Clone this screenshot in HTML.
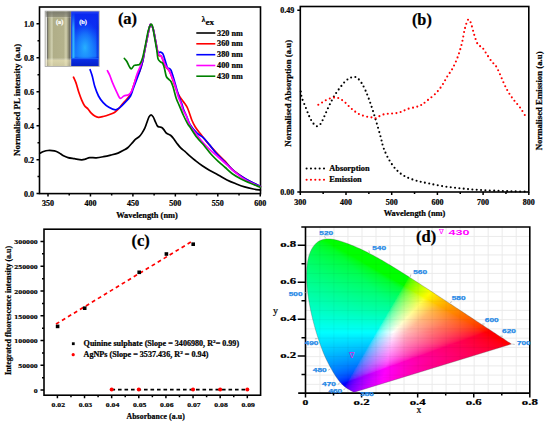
<!DOCTYPE html>
<html><head><meta charset="utf-8"><style>
html,body{margin:0;padding:0;background:#fff;width:550px;height:426px;overflow:hidden}
#wrap{position:relative;width:550px;height:426px;overflow:hidden}
svg{position:absolute;left:0;top:0}
#cie{position:absolute;overflow:hidden}
#cie i{position:absolute;left:0;width:100%;height:1px;display:block}
</style></head><body><div id="wrap">
<svg width="550" height="426" viewBox="0 0 550 426"><path d="M319.92 227 V393.1 M333.94 227 V393.1 M347.96 227 V393.1 M361.98 227 V393.1 M376 227 V393.1 M390.02 227 V393.1 M404.04 227 V393.1 M418.06 227 V393.1 M432.08 227 V393.1 M446.1 227 V393.1 M460.12 227 V393.1 M474.14 227 V393.1 M488.16 227 V393.1 M502.18 227 V393.1 M516.2 227 V393.1 M305.5 384.36 H529.8 M305.5 375.11 H529.8 M305.5 365.87 H529.8 M305.5 356.62 H529.8 M305.5 347.38 H529.8 M305.5 338.13 H529.8 M305.5 328.88 H529.8 M305.5 319.64 H529.8 M305.5 310.4 H529.8 M305.5 301.15 H529.8 M305.5 291.91 H529.8 M305.5 282.66 H529.8 M305.5 273.42 H529.8 M305.5 264.17 H529.8 M305.5 254.93 H529.8 M305.5 245.68 H529.8 M305.5 236.44 H529.8" stroke="#e9e9e9" stroke-width="0.9" fill="none"/></svg>
<div id="cie" style="left:306px;top:238px;width:206px;height:155px;clip-path:polygon(48.32px 154.18px,47.11px 153.96px,46.04px 153.35px,44.88px 152.67px,43.69px 151.99px,42.51px 151.31px,41.48px 150.68px,40.3px 149.9px,39px 148.97px,38.03px 148.19px,36.93px 147.2px,35.68px 145.95px,34.3px 144.41px,32.78px 142.57px,31.97px 141.51px,31.12px 140.34px,30.23px 139.05px,29.3px 137.64px,28.33px 136.09px,27.31px 134.4px,26.23px 132.56px,25.1px 130.56px,23.91px 128.41px,22.66px 126.08px,21.38px 123.57px,20.08px 120.88px,18.76px 117.99px,17.45px 114.9px,16.14px 111.61px,14.83px 108.12px,13.53px 104.44px,12.23px 100.55px,10.94px 96.48px,9.66px 92.24px,8.41px 87.87px,7.22px 83.37px,6.09px 78.79px,5.04px 74.15px,4.07px 69.48px,3.21px 64.8px,2.44px 60.15px,1.8px 55.55px,1.28px 51.03px,0.89px 46.6px,0.64px 42.28px,0.54px 38.09px,0.59px 34.03px,0.81px 30.12px,1.2px 26.38px,1.76px 22.83px,2.49px 19.49px,3.4px 16.39px,4.49px 13.54px,5.74px 10.96px,7.16px 8.66px,8.72px 6.65px,10.41px 4.96px,12.22px 3.59px,14.13px 2.52px,16.13px 1.73px,18.2px 1.21px,20.33px 0.93px,22.51px 0.88px,24.73px 1.02px,26.97px 1.33px,29.24px 1.78px,31.52px 2.34px,33.81px 2.98px,36.1px 3.68px,38.38px 4.45px,40.64px 5.25px,42.88px 6.09px,45.08px 6.95px,47.24px 7.82px,49.38px 8.72px,51.49px 9.64px,53.59px 10.58px,55.67px 11.55px,57.73px 12.53px,59.79px 13.55px,61.84px 14.58px,63.88px 15.63px,65.92px 16.7px,67.95px 17.8px,69.98px 18.91px,72.01px 20.03px,74.03px 21.18px,76.05px 22.33px,78.06px 23.51px,80.06px 24.69px,82.07px 25.89px,84.07px 27.09px,86.07px 28.31px,88.07px 29.54px,90.07px 30.77px,92.07px 32.02px,94.08px 33.27px,96.09px 34.53px,98.1px 35.8px,100.1px 37.07px,102.11px 38.35px,104.12px 39.63px,106.12px 40.92px,108.12px 42.21px,110.11px 43.5px,112.11px 44.79px,114.1px 46.08px,116.09px 47.38px,118.08px 48.67px,120.07px 49.96px,122.05px 51.25px,124.03px 52.54px,125.99px 53.82px,127.95px 55.1px,129.89px 56.38px,131.83px 57.65px,133.76px 58.92px,135.67px 60.17px,137.57px 61.42px,139.47px 62.67px,141.34px 63.9px,143.2px 65.13px,145.05px 66.34px,146.88px 67.55px,148.69px 68.74px,150.49px 69.92px,152.26px 71.08px,154.01px 72.23px,155.74px 73.36px,157.45px 74.48px,159.13px 75.58px,160.79px 76.67px,162.41px 77.73px,164px 78.79px,165.56px 79.81px,167.08px 80.82px,168.55px 81.79px,169.98px 82.73px,171.37px 83.64px,172.71px 84.52px,174.03px 85.38px,175.31px 86.22px,176.57px 87.05px,177.79px 87.86px,178.99px 88.64px,180.14px 89.4px,181.26px 90.13px,182.33px 90.82px,183.35px 91.49px,185.28px 92.75px,187.06px 93.92px,188.7px 94.99px,190.2px 95.99px,191.57px 96.89px,192.81px 97.71px,193.95px 98.46px,195px 99.14px,196.39px 100.05px,197.62px 100.86px,198.72px 101.58px,200.01px 102.44px,201.11px 103.16px,202.23px 103.88px,203.35px 104.62px,204.39px 105.31px,205.41px 105.98px,205.51px 106.05px)"><i style="top:1px;background:linear-gradient(90deg,#00ff03 15.75px,#00ff00 28.75px)"></i><i style="top:2px;background:linear-gradient(90deg,#00ff1d 12.75px,#00ff00 18.75px,#00ff00 32.75px)"></i><i style="top:3px;background:linear-gradient(90deg,#00ff27 11px,#00ff00 21px,#00ff00 37px)"></i><i style="top:4px;background:linear-gradient(90deg,#00ff2e 9.75px,#00ff0d 19.75px,#00ff00 22.75px,#00ff00 39.75px)"></i><i style="top:5px;background:linear-gradient(90deg,#00ff35 8.5px,#00ff0d 21.5px,#00ff00 24.5px,#00ff00 42.5px)"></i><i style="top:6px;background:linear-gradient(90deg,#00ff3a 7.5px,#00ff12 22.5px,#00ff00 26.5px,#00ff00 44.5px)"></i><i style="top:7px;background:linear-gradient(90deg,#00ff3e 6.75px,#00ff15 23.75px,#00ff00 27.75px,#00ff00 47.75px)"></i><i style="top:8px;background:linear-gradient(90deg,#00ff42 6px,#00ff1b 24px,#00ff00 29px,#00ff00 50px)"></i><i style="top:9px;background:linear-gradient(90deg,#00ff46 5.25px,#00ff1a 26.25px,#00ff00 31.25px,#00ff00 52.25px)"></i><i style="top:10px;background:linear-gradient(90deg,#00ff49 4.75px,#00ff1b 27.75px,#00ff00 32.75px,#00ff00 54.75px)"></i><i style="top:11px;background:linear-gradient(90deg,#00ff4c 4px,#00ff21 28px,#00ff00 35px,#00ff00 57px)"></i><i style="top:12px;background:linear-gradient(90deg,#00ff4f 3.5px,#00ff25 28.5px,#00ff08 34.5px,#00ff00 38.5px,#00ff00 58.5px)"></i><i style="top:13px;background:linear-gradient(90deg,#00ff52 3.25px,#00ff25 30.25px,#00ff09 36.25px,#00ff00 38.25px,#00ff00 60.25px)"></i><i style="top:14px;background:linear-gradient(90deg,#00ff55 2.75px,#00ff29 30.75px,#00ff0b 37.75px,#00ff00 40.75px,#00ff00 62.75px)"></i><i style="top:15px;background:linear-gradient(90deg,#00ff58 2.25px,#00ff2a 32.25px,#00ff0d 39.25px,#00ff00 42.25px,#00ff00 64.25px)"></i><i style="top:16px;background:linear-gradient(90deg,#00ff5a 2px,#00ff2d 33px,#00ff0d 41px,#00ff00 44px,#00ff00 67px)"></i><i style="top:17px;background:linear-gradient(90deg,#00ff5d 1.75px,#00ff30 33.75px,#00ff0e 42.75px,#00ff00 45.75px,#00ff00 68.75px)"></i><i style="top:18px;background:linear-gradient(90deg,#00ff5f 1.5px,#00ff30 35.5px,#00ff0e 44.5px,#00ff00 47.5px,#00ff00 70.5px)"></i><i style="top:19px;background:linear-gradient(90deg,#00ff62 1px,#00ff31 37px,#00ff10 46px,#00ff00 49px,#00ff00 72px)"></i><i style="top:20px;background:linear-gradient(90deg,#00ff64 1px,#00ff35 37px,#00ff15 47px,#00ff00 51px,#00ff00 74px)"></i><i style="top:21px;background:linear-gradient(90deg,#00ff66 0.75px,#00ff36 38.75px,#00ff0f 49.75px,#00ff00 52.75px,#00ff00 75.75px)"></i><i style="top:22px;background:linear-gradient(90deg,#00ff68 0.5px,#00ff3a 38.5px,#00ff15 50.5px,#00ff00 54.5px,#00ff00 77.5px)"></i><i style="top:23px;background:linear-gradient(90deg,#00ff6a 0.25px,#00ff3b 40.25px,#00ff16 52.25px,#00ff00 56.25px,#00ff00 79.25px)"></i><i style="top:24px;background:linear-gradient(90deg,#00ff6c 0px,#00ff3d 41px,#00ff16 54px,#00ff00 58px,#00ff00 81px)"></i><i style="top:25px;background:linear-gradient(90deg,#00ff6e 0px,#00ff3f 42px,#00ff15 56px,#00ff00 59px,#00ff00 82px)"></i><i style="top:26px;background:linear-gradient(90deg,#00ff71 -0.25px,#00ff3f 43.75px,#00ff15 57.75px,#00ff00 60.75px,#00ff00 83.75px)"></i><i style="top:27px;background:linear-gradient(90deg,#00ff72 -0.25px,#00ff43 43.75px,#00ff1a 58.75px,#00ff00 62.75px,#00ff00 85.75px)"></i><i style="top:28px;background:linear-gradient(90deg,#00ff75 -0.5px,#00ff42 46.5px,#00ff1a 60.5px,#00ff00 64.5px,#00ff00 87.5px)"></i><i style="top:29px;background:linear-gradient(90deg,#00ff76 -0.5px,#00ff47 45.5px,#00ff1e 61.5px,#00ff00 66.5px,#00ff00 89.5px)"></i><i style="top:30px;background:linear-gradient(90deg,#00ff78 -0.5px,#00ff47 47.5px,#00ff1d 63.5px,#00ff00 68.5px,#00ff00 90.5px)"></i><i style="top:31px;background:linear-gradient(90deg,#00ff7a -0.75px,#00ff48 49.25px,#00ff1d 65.25px,#00ff00 70.25px,#00ff00 92.25px)"></i><i style="top:32px;background:linear-gradient(90deg,#00ff7c -0.75px,#00ff4a 50.25px,#00ff21 66.25px,#00ff00 71.25px,#00ff00 94.25px)"></i><i style="top:33px;background:linear-gradient(90deg,#00ff7e -0.75px,#00ff4d 50.25px,#00ff20 68.25px,#00ff00 73.25px,#00ff00 95.25px)"></i><i style="top:34px;background:linear-gradient(90deg,#00ff80 -0.75px,#00ff4f 51.25px,#00ff24 69.25px,#00ff00 75.25px,#00ff00 97.25px)"></i><i style="top:35px;background:linear-gradient(90deg,#00ff82 -0.75px,#00ff51 52.25px,#00ff27 70.25px,#00ff00 77.25px,#00ff00 98.25px)"></i><i style="top:36px;background:linear-gradient(90deg,#00ff84 -0.75px,#00ff52 53.25px,#00ff27 72.25px,#00ff00 78.25px,#00ff00 100.25px)"></i><i style="top:37px;background:linear-gradient(90deg,#00ff86 -0.75px,#00ff54 54.25px,#00ff2a 73.25px,#00ff0e 78.25px,#00ff00 80.25px,#00ff00 102.25px)"></i><i style="top:38px;background:linear-gradient(90deg,#00ff87 -0.75px,#00ff59 53.25px,#00ff2a 75.25px,#00ff0c 80.25px,#00ff00 82.25px,#00ff00 102.25px,#0cff00 103.25px)"></i><i style="top:39px;background:linear-gradient(90deg,#00ff89 -0.75px,#00ff59 55.25px,#00ff2d 76.25px,#00ff09 82.25px,#00ff00 84.25px,#00ff00 102.25px,#24ff00 103.25px,#49ff00 105.25px)"></i><i style="top:40px;background:linear-gradient(90deg,#00ff8b -0.75px,#00ff5b 56.25px,#00ff2d 78.25px,#00ff00 86.25px,#00ff00 101.25px,#44ff00 104.25px,#5cff00 106.25px)"></i><i style="top:41px;background:linear-gradient(90deg,#00ff8d -0.75px,#00ff5d 57.25px,#00ff30 79.25px,#00ff10 85.25px,#00ff00 87.25px,#00ff00 101.25px,#29ff00 102.25px,#63ff00 106.25px,#74ff00 108.25px)"></i><i style="top:42px;background:linear-gradient(90deg,#00ff8f -0.75px,#00ff60 57.25px,#00ff2f 81.25px,#00ff0d 87.25px,#00ff00 88.25px,#00ff00 100.25px,#36ff00 102.25px,#72ff00 107.25px,#81ff00 109.25px)"></i><i style="top:43px;background:linear-gradient(90deg,#00ff91 -0.75px,#00ff60 59.25px,#00ff32 82.25px,#00ff15 88.25px,#00ff00 90.25px,#06ff00 100.25px,#2eff00 101.25px,#65ff00 105.25px,#93ff00 111.25px)"></i><i style="top:44px;background:linear-gradient(90deg,#00ff92 -0.5px,#00ff62 60.5px,#00ff31 84.5px,#00ff11 90.5px,#00ff00 92.5px,#00ff00 99.5px,#2aff00 100.5px,#64ff00 104.5px,#a0ff00 112.5px)"></i><i style="top:45px;background:linear-gradient(90deg,#00ff94 -0.5px,#00ff64 61.5px,#00ff31 86.5px,#00ff0e 92.5px,#00ff00 93.5px,#00ff00 98.5px,#37ff00 100.5px,#73ff00 105.5px,#afff00 114.5px)"></i><i style="top:46px;background:linear-gradient(90deg,#00ff96 -0.5px,#00ff67 61.5px,#00ff37 86.5px,#00ff16 93.5px,#00ff00 95.5px,#06ff00 98.5px,#2fff00 99.5px,#67ff00 103.5px,#b9ff00 115.5px)"></i><i style="top:47px;background:linear-gradient(90deg,#00ff98 -0.5px,#00ff6a 61.5px,#00ff3a 87.5px,#00ff14 95.5px,#00ff00 97.5px,#3bff00 99.5px,#76ff00 104.5px,#c7ff00 117.5px)"></i><i style="top:48px;background:linear-gradient(90deg,#00ff9a -0.25px,#00ff69 64.75px,#00ff3a 89.75px,#00ff19 96.75px,#38ff00 98.75px,#75ff00 103.75px,#ccff00 117.75px,#d1ff00 118.75px)"></i><i style="top:49px;background:linear-gradient(90deg,#00ff9c -0.25px,#00ff6b 65.75px,#00ff39 91.75px,#06ff25 96.75px,#2fff1f 97.75px,#5eff00 100.75px,#a5ff00 109.75px,#deff00 120.75px)"></i><i style="top:50px;background:linear-gradient(90deg,#00ff9e -0.25px,#00ff6d 66.75px,#00ff3c 92.75px,#00ff32 95.75px,#3cff29 97.75px,#78ff00 102.75px,#cfff00 116.75px,#e7ff00 121.75px)"></i><i style="top:51px;background:linear-gradient(90deg,#00ff9f 0px,#00ff71 66px,#00ff3f 94px,#00ff3c 95px,#39ff35 97px,#6dff21 101px,#87ff01 104px,#deff00 119px,#f0ff00 123px)"></i><i style="top:52px;background:linear-gradient(90deg,#00ffa1 0px,#00ff73 67px,#06ff42 95px,#30ff3f 96px,#6aff30 100px,#93ff0e 105px,#9aff00 106px,#fdff00 125px)"></i><i style="top:53px;background:linear-gradient(90deg,#00ffa3 0.25px,#00ff75 67.25px,#00ff49 94.25px,#2cff47 95.25px,#5eff3e 98.25px,#9aff1d 105.25px,#adff00 108.25px,#fffc00 125.25px,#fff800 126.25px)"></i><i style="top:54px;background:linear-gradient(90deg,#00ffa5 0.25px,#00ff76 69.25px,#00ff51 93.25px,#3aff4c 95.25px,#79ff3e 100.25px,#acff1c 107.25px,#b7ff01 109.25px,#fffc00 124.25px,#ffec00 128.25px)"></i><i style="top:55px;background:linear-gradient(90deg,#00ffa7 0.5px,#00ff78 70.5px,#00ff57 92.5px,#37ff53 94.5px,#6eff49 98.5px,#b8ff20 108.5px,#c8ff00 111.5px,#fffc00 123.5px,#ffe500 129.5px)"></i><i style="top:56px;background:linear-gradient(90deg,#00ffa9 0.5px,#00ff79 72.5px,#00ff5c 92.5px,#2dff5a 93.5px,#5fff53 96.5px,#aaff39 105.5px,#cdff16 111.5px,#d7ff00 113.5px,#fffc00 122.5px,#ffdb00 131.5px)"></i><i style="top:57px;background:linear-gradient(90deg,#00ffaa 0.75px,#00ff7e 70.75px,#00ff61 91.75px,#28ff60 92.75px,#5eff5a 95.75px,#aaff43 104.75px,#d7ff1b 112.75px,#e2ff00 114.75px,#fffb00 121.75px,#ffd400 132.75px)"></i><i style="top:58px;background:linear-gradient(90deg,#00ffac 0.75px,#00ff80 71.75px,#00ff67 90.75px,#4bff62 93.75px,#8bff56 99.75px,#dcff29 112.75px,#f0ff00 116.75px,#fff700 121.75px,#ffce00 133.75px)"></i><i style="top:59px;background:linear-gradient(90deg,#00ffae 1px,#00ff82 73px,#00ff6c 90px,#0eff6b 91px,#34ff69 92px,#6fff62 96px,#c1ff49 107px,#f0ff1e 116px,#faff03 118px,#ffc500 136px)"></i><i style="top:60px;background:linear-gradient(90deg,#00ffb0 1.25px,#00ff83 75.25px,#00ff70 90.25px,#30ff6f 91.25px,#63ff6a 94.25px,#aeff58 103.25px,#f6ff2a 116.25px,#fff600 120.25px,#ffbf00 137.25px)"></i><i style="top:61px;background:linear-gradient(90deg,#00ffb2 1.25px,#00ff86 75.25px,#00ff75 89.25px,#3eff72 91.25px,#75ff6c 95.25px,#c5ff56 106.25px,#ffff2f 117.25px,#ffe900 122.25px,#ffba00 138.25px)"></i><i style="top:62px;background:linear-gradient(90deg,#00ffb4 1.5px,#00ff89 75.5px,#00ff7a 88.5px,#3bff77 90.5px,#74ff72 94.5px,#cbff5b 106.5px,#fff936 117.5px,#ffe50f 122.5px,#ffe100 123.5px,#ffb200 140.5px)"></i><i style="top:63px;background:linear-gradient(90deg,#00ffb6 1.5px,#00ff8b 76.5px,#00ff7e 88.5px,#31ff7d 89.5px,#64ff79 92.5px,#abff6c 100.5px,#ffff48 115.5px,#ffdd17 123.5px,#ffd700 125.5px,#ffad00 141.5px)"></i><i style="top:64px;background:linear-gradient(90deg,#00ffb8 1.75px,#00ff8e 76.75px,#00ff82 87.75px,#2dff81 88.75px,#63ff7d 91.75px,#aaff72 99.75px,#fffe51 114.75px,#ffd211 125.75px,#ffcc00 127.75px,#ffa600 143.75px)"></i><i style="top:65px;background:linear-gradient(90deg,#00ffba 2px,#00ff90 78px,#00ff87 87px,#28ff86 88px,#53ff83 90px,#94ff7c 96px,#f7ff5f 112px,#ffe33e 120px,#ffcb15 127px,#ffc600 129px,#ffa100 145px)"></i><i style="top:66px;background:linear-gradient(90deg,#00ffbc 2.25px,#00ff92 79.25px,#00ff8b 86.25px,#3eff89 88.25px,#77ff85 92.25px,#cbff75 103.25px,#fffc60 113.25px,#ffc519 128.25px,#ffbc00 131.25px,#ff9c00 146.25px)"></i><i style="top:67px;background:linear-gradient(90deg,#00ffbe 2.25px,#00ff94 81.25px,#07ff8f 86.25px,#35ff8e 87.25px,#68ff8b 90.25px,#b6ff7f 99.25px,#fffc68 112.25px,#ffbc16 130.25px,#ffb700 132.25px,#ff9600 148.25px)"></i><i style="top:68px;background:linear-gradient(90deg,#00ffc0 2.5px,#00ff97 81.5px,#00ff93 85.5px,#31ff92 86.5px,#66ff8f 89.5px,#afff86 97.5px,#fffb6e 111.5px,#ffb81f 130.5px,#ffaf00 134.5px,#ff9100 149.5px)"></i><i style="top:69px;background:linear-gradient(90deg,#00ffc2 2.75px,#00ff9a 81.75px,#00ff98 84.75px,#2cff97 85.75px,#65ff94 88.75px,#b6ff8a 97.75px,#fffb74 110.75px,#ffbd33 127.75px,#ffab0b 134.75px,#ffa700 136.75px,#ff8d00 150.75px)"></i><i style="top:70px;background:linear-gradient(90deg,#00ffc4 3px,#00ff9c 84px,#42ff9a 86px,#7bff96 90px,#d1ff8a 101px,#fffa7a 110px,#ffbb3b 127px,#ffa610 136px,#ffa000 139px,#ff8800 152px)"></i><i style="top:71px;background:linear-gradient(90deg,#00ffc6 3px,#00ffa0 83px,#10ff9f 84px,#39ff9e 85px,#77ff9b 89px,#c9ff90 99px,#fffa80 109px,#ffb840 127px,#ffa115 137px,#ff9b00 140px,#ff8300 154px)"></i><i style="top:72px;background:linear-gradient(90deg,#00ffc8 3.25px,#00ffa4 83.25px,#35ffa3 84.25px,#6affa0 87.25px,#bcff98 96.25px,#fffe8a 107.25px,#ffba4a 125.25px,#ff9a11 139.25px,#ff9400 142.25px,#ff7e00 155.25px)"></i><i style="top:73px;background:linear-gradient(90deg,#00ffcb 3.5px,#00ffa8 82.5px,#30ffa7 83.5px,#69ffa5 86.5px,#b5ff9d 94.5px,#fffd8f 106.5px,#ffbb52 123.5px,#ff9514 140.5px,#ff8f00 143.5px,#ff7a00 156.5px)"></i><i style="top:74px;background:linear-gradient(90deg,#00ffcd 3.75px,#00ffac 81.75px,#2bffab 82.75px,#58ffaa 84.75px,#a5ffa4 91.75px,#fffd94 105.75px,#ffba58 122.75px,#ff9017 141.75px,#ff8900 145.75px,#ff7400 158.75px)"></i><i style="top:75px;background:linear-gradient(90deg,#00ffcf 4px,#00ffb0 81px,#43ffaf 83px,#7fffac 87px,#d8ffa2 98px,#fffc99 105px,#ffb95c 122px,#ff8b19 143px,#ff8400 147px,#ff7000 160px)"></i><i style="top:76px;background:linear-gradient(90deg,#00ffd1 4.25px,#00ffb4 80.25px,#3fffb3 82.25px,#7effb0 86.25px,#d2ffa8 96.25px,#fffb9d 104.25px,#ffbb64 120.25px,#ff8416 145.25px,#ff7e00 149.25px,#ff6c00 161.25px)"></i><i style="top:77px;background:linear-gradient(90deg,#00ffd3 4.5px,#00ffb8 79.5px,#11ffb8 80.5px,#3bffb7 81.5px,#7dffb4 85.5px,#d2ffad 95.5px,#fffaa2 103.5px,#ffba68 119.5px,#ff8018 146.5px,#ff7900 150.5px,#ff6600 163.5px)"></i><i style="top:78px;background:linear-gradient(90deg,#00ffd6 4.75px,#00ffbc 79.75px,#37ffbb 80.75px,#6fffb9 83.75px,#bdffb4 91.75px,#fffeab 101.75px,#ffbb6f 117.75px,#ff7915 148.75px,#ff7300 152.75px,#ff6200 164.75px)"></i><i style="top:79px;background:linear-gradient(90deg,#00ffd8 5px,#00ffc0 79px,#32ffbf 80px,#5effbe 82px,#a4ffba 88px,#fffdb0 101px,#ffba74 117px,#ff7517 150px,#ff6f00 154px,#ff5e00 166px)"></i><i style="top:80px;background:linear-gradient(90deg,#00ffda 5.25px,#00ffc4 78.25px,#2dffc3 79.25px,#5cffc2 81.25px,#a3ffbf 87.25px,#fffcb4 100.25px,#ffb977 116.25px,#ff7524 148.25px,#ff6900 156.25px,#ff5900 167.25px)"></i><i style="top:81px;background:linear-gradient(90deg,#00ffdd 5.5px,#00ffc8 77.5px,#46ffc7 79.5px,#84ffc5 83.5px,#dbffbf 93.5px,#fffbb8 99.5px,#ffb478 116.5px,#ff6a16 153.5px,#ff6400 157.5px,#ff5400 169.5px)"></i><i style="top:82px;background:linear-gradient(90deg,#00ffdf 5.75px,#00ffcc 76.75px,#42ffcb 78.75px,#77ffca 81.75px,#cdffc5 90.75px,#fffabd 98.75px,#ffb982 113.75px,#ff7536 144.75px,#ff630d 156.75px,#ff5e00 159.75px,#ff4f00 170.75px)"></i><i style="top:83px;background:linear-gradient(90deg,#00ffe2 6px,#00ffd0 76px,#12ffd0 77px,#3effcf 78px,#75ffce 81px,#c5ffca 89px,#ffffc6 97px,#ffbb88 112px,#ff753d 143px,#ff5e10 158px,#ff5800 162px,#ff4a00 172px)"></i><i style="top:84px;background:linear-gradient(90deg,#00ffe4 6.25px,#00ffd4 76.25px,#3affd4 77.25px,#74ffd3 80.25px,#ceffcf 89.25px,#fffecb 96.25px,#ffbd8f 110.25px,#ff7746 140.25px,#ff5912 159.25px,#ff5400 163.25px,#ff4500 173.25px)"></i><i style="top:85px;background:linear-gradient(90deg,#00ffe7 6.5px,#00ffd8 75.5px,#35ffd8 76.5px,#63ffd7 78.5px,#acffd5 84.5px,#fffdcf 95.5px,#ffb88f 110.5px,#ff7246 141.5px,#ff5514 160.5px,#ff4d00 165.5px,#ff3f00 175.5px)"></i><i style="top:86px;background:linear-gradient(90deg,#00ffe9 6.75px,#00ffdd 74.75px,#2fffdc 75.75px,#61ffdc 77.75px,#abffda 83.75px,#fffcd3 94.75px,#ffba96 108.75px,#ff744e 138.75px,#ff4e12 162.75px,#ff4800 166.75px,#ff3900 176.75px)"></i><i style="top:87px;background:linear-gradient(90deg,#00ffec 7px,#00ffe1 74px,#49ffe0 76px,#8bffdf 80px,#eeffdc 91px,#fff4d1 95px,#ffb293 110px,#ff6d4c 141px,#ff4914 164px,#ff4200 169px,#ff3300 178px)"></i><i style="top:88px;background:linear-gradient(90deg,#00ffee 7.25px,#00ffe5 73.25px,#46ffe5 75.25px,#8affe4 79.25px,#e7ffe1 89.25px,#fffadb 93.25px,#ffbba0 106.25px,#ff765b 134.25px,#ff4415 165.25px,#ff3c00 170.25px,#ff2b00 180.25px)"></i><i style="top:89px;background:linear-gradient(90deg,#00fff1 7.5px,#00ffea 72.5px,#14ffe9 73.5px,#42ffe9 74.5px,#7cffe9 77.5px,#d0ffe7 85.5px,#ffffe5 91.5px,#ffb9a3 105.5px,#ff745e 133.5px,#ff3f17 166.5px,#ff3500 172.5px,#ff2300 181.5px)"></i><i style="top:90px;background:linear-gradient(90deg,#00fff4 7.75px,#00ffee 72.75px,#3dffee 73.75px,#7affed 76.75px,#d0ffec 84.75px,#fffeea 90.75px,#ffb8a6 104.75px,#ff7463 131.75px,#ff3715 168.75px,#ff2e00 173.75px,#ff1a00 182.75px)"></i><i style="top:91px;background:linear-gradient(90deg,#00fff7 8px,#00fff2 72px,#38fff2 73px,#68fff2 75px,#b5fff1 81px,#fffdee 90px,#ffbeb1 102px,#ff7a6e 127px,#ff3016 170px,#ff2400 176px,#ff0b00 184px)"></i><i style="top:92px;background:linear-gradient(90deg,#00fff9 8.25px,#00fff7 71.25px,#32fff7 72.25px,#66fff7 74.25px,#b5fff6 80.25px,#fffcf2 89.25px,#ffb8b0 102.25px,#ff736b 129.25px,#ff2714 172.25px,#ff1a00 177.25px,#ff0000 184.25px,#ff0000 186.25px)"></i><i style="top:93px;background:linear-gradient(90deg,#00fffc 8.75px,#00fffb 70.75px,#36fffb 71.75px,#69fffb 73.75px,#b7fffb 79.75px,#fefffb 87.75px,#ffbeba 99.75px,#ff7a77 123.75px,#ff1d15 173.75px,#ff0a00 178.75px,#ff0000 183.75px,#ff0000 187.75px)"></i><i style="top:94px;background:linear-gradient(90deg,#00ffff 9px,#00feff 70px,#2ffeff 71px,#66feff 73px,#b7feff 79px,#fefeff 87px,#ffbcbd 99px,#ff7b7c 122px,#ff171c 173px,#ff0004 179px,#ff0000 189px)"></i><i style="top:95px;background:linear-gradient(90deg,#00fcff 9.25px,#00faff 69.25px,#4bf9ff 71.25px,#91f9ff 75.25px,#f2f8ff 85.25px,#ffeef5 88.25px,#ffabb1 102.25px,#ff6369 132.25px,#ff1425 171.25px,#ff0017 176.25px,#ff0000 183.25px,#ff0000 190.25px)"></i><i style="top:96px;background:linear-gradient(90deg,#00f9ff 9.5px,#00f5ff 68.5px,#1bf5ff 69.5px,#46f5ff 70.5px,#7ff4ff 73.5px,#d5f4ff 81.5px,#ffedf9 87.5px,#ffadb8 100.5px,#ff6973 127.5px,#ff182f 167.5px,#ff0023 173.5px,#ff0000 185.5px,#ff0000 191.5px)"></i><i style="top:97px;background:linear-gradient(90deg,#00f6ff 10px,#00f1ff 68px,#47f0ff 70px,#8df0ff 74px,#eceeff 84px,#ffeafb 87px,#ffaebd 99px,#ff6877 126px,#ff1736 165px,#ff002b 171px,#ff0005 184px,#ff0000 193px)"></i><i style="top:98px;background:linear-gradient(90deg,#00f3ff 10.25px,#00ecff 67.25px,#14ecff 68.25px,#42ecff 69.25px,#7cebff 72.25px,#d9e9ff 81.25px,#ffe8ff 86.25px,#ffa5b9 100.25px,#ff6074 128.25px,#ff173d 162.25px,#ff0033 168.25px,#ff000c 184.25px,#ff0000 190.25px,#ff0000 195.25px)"></i><i style="top:99px;background:linear-gradient(90deg,#00f0ff 10.5px,#00e8ff 67.5px,#3ce8ff 68.5px,#78e7ff 71.5px,#c4e5ff 78.5px,#ffe0fb 86.5px,#ffa0b8 100.5px,#ff5871 130.5px,#ff1442 160.5px,#ff003a 165.5px,#ff000e 185.5px,#ff0000 190.5px,#ff0000 196.5px)"></i><i style="top:100px;background:linear-gradient(90deg,#00edff 10.75px,#00e4ff 66.75px,#36e3ff 67.75px,#75e3ff 70.75px,#cae0ff 78.75px,#ffdeff 85.75px,#ff9ebb 99.75px,#ff5977 127.75px,#ff1849 156.75px,#ff0040 162.75px,#ff0010 186.75px,#ff0000 192.75px,#ff0000 197.75px)"></i><i style="top:101px;background:linear-gradient(90deg,#00eaff 11.25px,#00dfff 66.25px,#38dfff 67.25px,#75deff 70.25px,#c8dcff 78.25px,#ffd4fa 86.25px,#ff95b6 101.25px,#ff4c70 132.25px,#ff134d 155.25px,#ff0046 160.25px,#ff0011 188.25px,#ff0000 194.25px,#ff0000 199.25px)"></i><i style="top:102px;background:linear-gradient(90deg,#00e7ff 11.5px,#00dbff 65.5px,#32dbff 66.5px,#62daff 68.5px,#abd8ff 74.5px,#ffd3fe 85.5px,#ff96bc 99.5px,#ff4d76 129.5px,#ff1453 152.5px,#ff004b 157.5px,#ff0012 189.5px,#ff0000 195.5px,#ff0000 201.5px)"></i><i style="top:103px;background:linear-gradient(90deg,#00e4ff 11.75px,#00d7ff 64.75px,#2bd7ff 65.75px,#5ed6ff 67.75px,#a8d4ff 73.75px,#fdcfff 84.75px,#ff8db8 100.75px,#ff4473 131.75px,#ff1458 149.75px,#ff0051 154.75px,#ff0014 190.75px,#ff0000 197.75px,#ff0000 202.75px)"></i><i style="top:104px;background:linear-gradient(90deg,#00e1ff 12.25px,#00d3ff 64.25px,#2ed3ff 65.25px,#5ed2ff 67.25px,#a7cfff 73.25px,#ffc7fd 85.25px,#ff8dbd 99.25px,#ff477a 128.25px,#ff135d 147.25px,#ff0057 151.25px,#ff0017 191.25px,#ff0000 199.25px,#ff0000 204.25px)"></i><i style="top:105px;background:linear-gradient(90deg,#00deff 12.5px,#00cfff 63.5px,#46ceff 65.5px,#85cdff 69.5px,#dcc7ff 79.5px,#ffc0fa 85.5px,#ff85b9 100.5px,#ff3874 132.5px,#ff0e61 145.5px,#ff005c 148.5px,#ff0018 192.5px,#ff0000 201.5px,#ff0000 205.5px)"></i><i style="top:106px;background:linear-gradient(90deg,#00dbff 13px,#00cbff 63px,#2acbff 64px,#5bcaff 66px,#a3c7ff 72px,#fcc0ff 84px,#ff7fb8 101px,#ff2e73 134px,#ff0664 144px,#ff0016 195px,#ff0000 203px,#ff0000 205px)"></i><i style="top:107px;background:linear-gradient(90deg,#00d8ff 13.25px,#00c7ff 62.25px,#43c6ff 64.25px,#82c4ff 68.25px,#d8beff 78.25px,#ffb5f9 85.25px,#ff77b4 102.25px,#ff186d 138.25px,#ff0066 143.25px,#ff0017 196.25px,#ff0001 202.25px)"></i><i style="top:108px;background:linear-gradient(90deg,#00d5ff 13.5px,#00c4ff 61.5px,#18c3ff 62.5px,#3ec3ff 63.5px,#73c1ff 66.5px,#c7bbff 75.5px,#ffb3fc 84.5px,#ff7abd 99.5px,#ff2a7a 130.5px,#ff006b 140.5px,#ff0018 197.5px,#ff0015 198.5px)"></i><i style="top:109px;background:linear-gradient(90deg,#00d2ff 14px,#00c0ff 61px,#40bfff 63px,#7fbcff 67px,#d4b6ff 77px,#ffaaf8 85px,#ff71b8 101px,#ff1877 133px,#ff0070 138px,#ff0021 195px)"></i><i style="top:110px;background:linear-gradient(90deg,#00cfff 14.25px,#00bcff 60.25px,#11bbff 61.25px,#3bbbff 62.25px,#70b9ff 65.25px,#bcb4ff 73.25px,#ffa8fb 84.25px,#ff6ebb 100.25px,#ff187c 130.25px,#ff0075 135.25px,#ff0028 192.25px)"></i><i style="top:111px;background:linear-gradient(90deg,#00ccff 14.75px,#00b8ff 59.75px,#17b8ff 60.75px,#3db7ff 61.75px,#7cb4ff 65.75px,#d7acff 76.75px,#ffa4fc 83.75px,#ff67b9 100.75px,#ff1881 127.75px,#ff007b 131.75px,#ff0030 188.75px)"></i><i style="top:112px;background:linear-gradient(90deg,#00c9ff 15px,#00b4ff 59px,#08b4ff 60px,#38b3ff 61px,#6db1ff 64px,#b8abff 72px,#ff9dfa 84px,#ff5fb6 102px,#ff1886 125px,#ff0080 129px,#ff0037 185px)"></i><i style="top:113px;background:linear-gradient(90deg,#00c6ff 15.5px,#00b1ff 58.5px,#10b0ff 59.5px,#3aafff 60.5px,#6dadff 63.5px,#bfa6ff 72.5px,#ff99fb 83.5px,#ff5dba 100.5px,#ff178b 122.5px,#ff0084 126.5px,#ff003c 182.5px)"></i><i style="top:114px;background:linear-gradient(90deg,#00c2ff 16px,#00adff 58px,#16acff 59px,#3babff 60px,#79a8ff 64px,#d29fff 75px,#ff95fd 83px,#ff56b9 101px,#ff1690 120px,#ff0089 124px,#ff0042 179px)"></i><i style="top:115px;background:linear-gradient(90deg,#00bfff 16.25px,#00a9ff 57.25px,#07a8ff 58.25px,#36a8ff 59.25px,#6ba5ff 62.25px,#bb9dff 71.25px,#ff8dfa 83.25px,#ff4db6 102.25px,#ff1796 117.25px,#ff008f 121.25px,#ff0047 175.25px)"></i><i style="top:116px;background:linear-gradient(90deg,#00bcff 16.75px,#00a5ff 56.75px,#10a5ff 57.75px,#38a4ff 58.75px,#77a0ff 62.75px,#d595ff 74.75px,#ff89fc 82.75px,#ff4bba 100.75px,#ff169b 114.75px,#ff0093 118.75px,#ff004c 172.75px)"></i><i style="top:117px;background:linear-gradient(90deg,#00b9ff 17.25px,#00a1ff 56.25px,#16a1ff 57.25px,#3aa0ff 58.25px,#779cff 62.25px,#c792ff 72.25px,#ff85fd 82.25px,#ff45bc 100.25px,#ff15a0 112.25px,#ff009a 115.25px,#ff0051 169.25px)"></i><i style="top:118px;background:linear-gradient(90deg,#00b6ff 17.5px,#009eff 55.5px,#079dff 56.5px,#359cff 57.5px,#6899ff 60.5px,#b091ff 68.5px,#ff7dfb 82.5px,#ff39b8 101.5px,#ff0ea4 110.5px,#ff00a0 112.5px,#ff0056 165.5px)"></i><i style="top:119px;background:linear-gradient(90deg,#00b2ff 18px,#009aff 55px,#0f99ff 56px,#3798ff 57px,#6995ff 60px,#b78cff 69px,#ff78fc 82px,#ff2eb7 102px,#ff0baa 108px,#ff00a5 110px,#ff005a 163px)"></i><i style="top:120px;background:linear-gradient(90deg,#00afff 18.5px,#0096ff 54.5px,#1595ff 55.5px,#3994ff 56.5px,#7490ff 60.5px,#c385ff 70.5px,#ff6ff9 82.5px,#ff20b6 102.5px,#ff00ad 106.5px,#ff0062 156.5px,#ff005f 159.5px)"></i><i style="top:121px;background:linear-gradient(90deg,#00abff 19px,#0092ff 54px,#4e8fff 57px,#9089ff 63px,#ef73ff 78px,#ff6afa 82px,#ff19ba 101px,#ff00b3 104px,#ff006d 148px,#ff0064 156px)"></i><i style="top:122px;background:linear-gradient(90deg,#00a8ff 19.5px,#008eff 53.5px,#3c8cff 55.5px,#7588ff 59.5px,#c779ff 70.5px,#ff64fc 81.5px,#ff18c0 98.5px,#ff00b9 101.5px,#ff0076 141.5px,#ff0069 152.5px)"></i><i style="top:123px;background:linear-gradient(90deg,#00a4ff 20px,#008aff 53px,#3d88ff 55px,#7584ff 59px,#c774ff 70px,#ff5efd 81px,#ff17c7 96px,#ff00c2 98px,#ff0080 134px,#ff006c 150px)"></i><i style="top:124px;background:linear-gradient(90deg,#00a1ff 20.5px,#0086ff 52.5px,#3e84ff 54.5px,#757fff 58.5px,#cc6dff 70.5px,#ff53fa 81.5px,#ff16ce 93.5px,#ff00c8 95.5px,#ff0084 131.5px,#ff0071 146.5px)"></i><i style="top:125px;background:linear-gradient(90deg,#009dff 21px,#0082ff 52px,#4080ff 54px,#757bff 58px,#c56aff 69px,#ff4cfb 81px,#ff14d5 91px,#ff00cf 93px,#ff008b 127px,#ff0076 143px)"></i><i style="top:126px;background:linear-gradient(90deg,#009aff 21.5px,#007eff 51.5px,#297dff 52.5px,#5f79ff 55.5px,#ac6cff 64.5px,#ff44fc 80.5px,#ff12dd 88.5px,#ff00d7 90.5px,#ff0097 119.5px,#ff007b 139.5px)"></i><i style="top:127px;background:linear-gradient(90deg,#0096ff 22px,#007aff 51px,#2b79ff 52px,#5f75ff 55px,#a568ff 63px,#ff3bfe 80px,#ff10e5 86px,#ff00e2 87px,#ff00a3 113px,#ff0080 136px)"></i><i style="top:128px;background:linear-gradient(90deg,#0092ff 22.5px,#0076ff 50.5px,#2d74ff 51.5px,#6070ff 54.5px,#ab61ff 63.5px,#ff30ff 79.5px,#ff00ea 84.5px,#ff00a7 110.5px,#ff0084 133.5px)"></i><i style="top:129px;background:linear-gradient(90deg,#008eff 23.25px,#0072ff 49.25px,#1371ff 50.25px,#3570ff 51.25px,#6e69ff 55.25px,#be54ff 66.25px,#fa27ff 78.25px,#ff00f2 82.25px,#ff00b0 106.25px,#ff0089 130.25px)"></i><i style="top:130px;background:linear-gradient(90deg,#008aff 23.75px,#006eff 48.75px,#376bff 50.75px,#6e64ff 54.75px,#b74fff 64.75px,#f024ff 75.75px,#fe00ff 78.75px,#ff00b9 101.75px,#ff008e 126.75px)"></i><i style="top:131px;background:linear-gradient(90deg,#0086ff 24.25px,#0069ff 48.25px,#3866ff 50.25px,#6e5fff 54.25px,#c242ff 66.25px,#ea1aff 74.25px,#f400ff 76.25px,#ff00f1 82.25px,#ff00b0 106.25px,#ff0094 123.25px)"></i><i style="top:132px;background:linear-gradient(90deg,#0081ff 24.75px,#0065ff 47.75px,#3a61ff 49.75px,#6f5aff 53.75px,#c13aff 65.75px,#e017ff 71.75px,#e900ff 73.75px,#ff00fa 79.75px,#ff00b7 102.75px,#ff0099 119.75px)"></i><i style="top:133px;background:linear-gradient(90deg,#007dff 25.5px,#005fff 47.5px,#295eff 48.5px,#5c58ff 51.5px,#ac3eff 61.5px,#d21bff 68.5px,#db00ff 70.5px,#ff00fa 79.5px,#ff00b8 102.5px,#ff009f 116.5px)"></i><i style="top:134px;background:linear-gradient(90deg,#0078ff 26px,#005aff 47px,#2b58ff 48px,#5d52ff 51px,#ab35ff 61px,#c719ff 66px,#d100ff 68px,#ff00fb 79px,#ff00b7 103px,#ff00a3 114px)"></i><i style="top:135px;background:linear-gradient(90deg,#0073ff 26.5px,#0055ff 46.5px,#2d53ff 47.5px,#5d4cff 50.5px,#ab2aff 60.5px,#c600ff 65.5px,#ff00fc 78.5px,#ff00b8 102.5px,#ff00a9 110.5px)"></i><i style="top:136px;background:linear-gradient(90deg,#006eff 27.25px,#0051ff 45.25px,#474aff 48.25px,#8439ff 54.25px,#b110ff 61.25px,#b700ff 62.25px,#ff00fd 78.25px,#ff00bd 100.25px,#ff00af 107.25px)"></i><i style="top:137px;background:linear-gradient(90deg,#0069ff 27.75px,#004bff 44.75px,#4843ff 47.75px,#842fff 53.75px,#a50cff 58.75px,#b100ff 60.75px,#ff00fe 77.75px,#ff00bc 100.75px,#ff00b6 103.75px)"></i><i style="top:138px;background:linear-gradient(90deg,#0063ff 28.5px,#0044ff 44.5px,#2641ff 45.5px,#5938ff 48.5px,#9412ff 55.5px,#a000ff 57.5px,#ff00fe 77.5px,#ff00bf 99.5px,#ff00bd 100.5px)"></i><i style="top:139px;background:linear-gradient(90deg,#005dff 29.25px,#053cff 44.25px,#2e39ff 45.25px,#662aff 49.25px,#880bff 53.25px,#9500ff 55.25px,#f800ff 75.25px,#ff00d7 89.25px,#ff00c4 97.25px)"></i><i style="top:140px;background:linear-gradient(90deg,#0056ff 29.75px,#0038ff 42.75px,#0c34ff 43.75px,#3031ff 44.75px,#671cff 48.75px,#8000ff 51.75px,#d500ff 66.75px,#ff00fb 77.75px,#ff00cb 93.75px)"></i><i style="top:141px;background:linear-gradient(90deg,#004fff 30.5px,#002eff 42.5px,#3725ff 44.5px,#6900ff 48.5px,#b300ff 59.5px,#ff00fb 77.5px,#ff00d3 90.5px)"></i><i style="top:142px;background:linear-gradient(90deg,#0047ff 31.25px,#0022ff 42.25px,#271bff 43.25px,#5800ff 46.25px,#9e00ff 55.25px,#ff00ff 76.25px,#ff00db 87.25px)"></i><i style="top:143px;background:linear-gradient(90deg,#003dff 32.25px,#0015ff 41.25px,#3400ff 43.25px,#7000ff 48.25px,#c500ff 62.25px,#ff00fb 77.25px,#ff00e4 84.25px)"></i><i style="top:144px;background:linear-gradient(90deg,#0031ff 33px,#0010ff 39px,#0000ff 41px,#2400ff 42px,#5600ff 45px,#9c00ff 54px,#ff00fe 76px,#ff00ed 81px)"></i><i style="top:145px;background:linear-gradient(90deg,#0020ff 34px,#0000ff 38px,#0000ff 40px,#4300ff 43px,#7e00ff 49px,#d400ff 65px,#ff00fa 77px,#ff00f6 78px)"></i><i style="top:146px;background:linear-gradient(90deg,#0000ff 34.75px,#0000ff 39.75px,#3800ff 41.75px,#7100ff 46.75px,#c300ff 60.75px,#fd00ff 74.75px)"></i><i style="top:147px;background:linear-gradient(90deg,#0000ff 36px,#0000ff 39px,#3500ff 41px,#6f00ff 46px,#c100ff 60px,#ef00ff 71px)"></i><i style="top:148px;background:linear-gradient(90deg,#0000ff 37px,#0500ff 39px,#2c00ff 40px,#6200ff 44px,#b000ff 56px,#e400ff 68px)"></i><i style="top:149px;background:linear-gradient(90deg,#0000ff 38.25px,#2800ff 39.25px,#6000ff 43.25px,#a900ff 54.25px,#d700ff 64.25px)"></i><i style="top:150px;background:linear-gradient(90deg,#3d00ff 39.75px,#7900ff 45.75px,#ce00ff 61.75px)"></i><i style="top:151px;background:linear-gradient(90deg,#5900ff 41.5px,#9f00ff 51.5px,#c100ff 58.5px)"></i><i style="top:152px;background:linear-gradient(90deg,#6e00ff 43.25px,#b400ff 55.25px)"></i><i style="top:153px;background:linear-gradient(90deg,#7e00ff 45px,#a600ff 52px)"></i></div>
<svg width="550" height="426" viewBox="0 0 550 426"><rect x="39.5" y="7.0" width="221.0" height="186.6" fill="none" stroke="#000" stroke-width="1.6"/>
<path d="M48 193.6 V196.6 M69.22 193.6 V195.6 M90.45 193.6 V196.6 M111.67 193.6 V195.6 M132.9 193.6 V196.6 M154.12 193.6 V195.6 M175.35 193.6 V196.6 M196.57 193.6 V195.6 M217.8 193.6 V196.6 M239.03 193.6 V195.6 M260.25 193.6 V196.6 M39.5 193.6 H36.5 M39.5 176.62 H37.5 M39.5 159.64 H36.5 M39.5 142.66 H37.5 M39.5 125.68 H36.5 M39.5 108.7 H37.5 M39.5 91.72 H36.5 M39.5 74.74 H37.5 M39.5 57.76 H36.5 M39.5 40.78 H37.5 M39.5 23.8 H36.5" stroke="#000" stroke-width="1.5" fill="none"/>
<text x="48" y="203.5" font-size="8" text-anchor="middle" font-weight="bold" fill="#000" font-family='"Liberation Serif", serif' dominant-baseline="central" stroke="#000" stroke-width="0.22" >350</text>
<text x="90.45" y="203.5" font-size="8" text-anchor="middle" font-weight="bold" fill="#000" font-family='"Liberation Serif", serif' dominant-baseline="central" stroke="#000" stroke-width="0.22" >400</text>
<text x="132.9" y="203.5" font-size="8" text-anchor="middle" font-weight="bold" fill="#000" font-family='"Liberation Serif", serif' dominant-baseline="central" stroke="#000" stroke-width="0.22" >450</text>
<text x="175.35" y="203.5" font-size="8" text-anchor="middle" font-weight="bold" fill="#000" font-family='"Liberation Serif", serif' dominant-baseline="central" stroke="#000" stroke-width="0.22" >500</text>
<text x="217.8" y="203.5" font-size="8" text-anchor="middle" font-weight="bold" fill="#000" font-family='"Liberation Serif", serif' dominant-baseline="central" stroke="#000" stroke-width="0.22" >550</text>
<text x="260.25" y="203.5" font-size="8" text-anchor="middle" font-weight="bold" fill="#000" font-family='"Liberation Serif", serif' dominant-baseline="central" stroke="#000" stroke-width="0.22" >600</text>
<text x="34" y="194.4" font-size="8" text-anchor="end" font-weight="bold" fill="#000" font-family='"Liberation Serif", serif' dominant-baseline="central" stroke="#000" stroke-width="0.22" >0.0</text>
<text x="34" y="160.44" font-size="8" text-anchor="end" font-weight="bold" fill="#000" font-family='"Liberation Serif", serif' dominant-baseline="central" stroke="#000" stroke-width="0.22" >0.2</text>
<text x="34" y="126.48" font-size="8" text-anchor="end" font-weight="bold" fill="#000" font-family='"Liberation Serif", serif' dominant-baseline="central" stroke="#000" stroke-width="0.22" >0.4</text>
<text x="34" y="92.52" font-size="8" text-anchor="end" font-weight="bold" fill="#000" font-family='"Liberation Serif", serif' dominant-baseline="central" stroke="#000" stroke-width="0.22" >0.6</text>
<text x="34" y="58.56" font-size="8" text-anchor="end" font-weight="bold" fill="#000" font-family='"Liberation Serif", serif' dominant-baseline="central" stroke="#000" stroke-width="0.22" >0.8</text>
<text x="34" y="24.6" font-size="8" text-anchor="end" font-weight="bold" fill="#000" font-family='"Liberation Serif", serif' dominant-baseline="central" stroke="#000" stroke-width="0.22" >1.0</text>
<text x="147" y="215" font-size="8.4" text-anchor="middle" font-weight="bold" fill="#000" font-family='"Liberation Serif", serif' dominant-baseline="central" stroke="#000" stroke-width="0.22" >Wavelength (nm)</text>
<text x="0" y="0" font-size="8.95" text-anchor="middle" font-weight="bold" fill="#000" font-family='"Liberation Serif", serif' dominant-baseline="central" stroke="#000" stroke-width="0.22" transform="translate(17.4 99.8) rotate(-90)">Normalised PL intensity (a.u)</text>
<text x="127.5" y="18.7" font-size="16.5" text-anchor="middle" font-weight="bold" fill="#000" font-family='"Liberation Serif", serif' dominant-baseline="central" stroke="#000" stroke-width="0.22" >(a)</text>
<path d="M39.8 153.3 C40.42 153 42.13 151.97 43.5 151.5 C44.87 151.03 46.18 150.6 48 150.5 C49.82 150.4 52.58 150.53 54.4 150.9 C56.22 151.27 57.38 151.88 58.9 152.7 C60.42 153.52 61.98 154.98 63.5 155.8 C65.02 156.62 66.18 157.12 68 157.6 C69.82 158.08 72.13 158.33 74.4 158.7 C76.67 159.07 79.78 159.73 81.6 159.8 C83.42 159.87 83.93 159.47 85.3 159.1 C86.67 158.73 87.98 157.82 89.8 157.6 C91.62 157.38 93.92 157.95 96.2 157.8 C98.48 157.65 101.08 157.15 103.5 156.7 C105.92 156.25 108.28 155.7 110.7 155.1 C113.12 154.5 115.87 153.9 118 153.1 C120.13 152.3 121.83 151.23 123.5 150.3 C125.17 149.37 126.45 148.83 128 147.5 C129.55 146.17 131.53 143.68 132.8 142.3 C134.07 140.92 134.53 140.15 135.6 139.2 C136.67 138.25 138.13 137.62 139.2 136.6 C140.27 135.58 141.07 134.5 142 133.1 C142.93 131.7 143.98 129.97 144.8 128.2 C145.62 126.43 146.2 124.38 146.9 122.5 C147.6 120.62 148.3 118.18 149 116.9 C149.7 115.62 150.4 114.8 151.1 114.8 C151.8 114.8 152.48 115.73 153.2 116.9 C153.92 118.07 154.68 120.27 155.4 121.8 C156.12 123.33 156.8 125.23 157.5 126.1 C158.2 126.97 158.9 126.77 159.6 127 C160.3 127.23 161 127.07 161.7 127.5 C162.4 127.93 163.1 128.73 163.8 129.6 C164.5 130.47 165.2 131.95 165.9 132.7 C166.6 133.45 167.18 133.63 168 134.1 C168.82 134.57 169.85 134.73 170.8 135.5 C171.75 136.27 172.63 137.33 173.7 138.7 C174.77 140.07 176.03 142.17 177.2 143.7 C178.37 145.23 179.42 146.62 180.7 147.9 C181.98 149.18 183.35 150.03 184.9 151.4 C186.45 152.77 188.27 154.58 190 156.1 C191.73 157.62 193.25 158.88 195.3 160.5 C197.35 162.12 199.95 164.18 202.3 165.8 C204.65 167.42 206.75 168.68 209.4 170.2 C212.05 171.72 215.27 173.28 218.2 174.9 C221.13 176.52 224.07 178.43 227 179.9 C229.93 181.37 232.87 182.53 235.8 183.7 C238.73 184.87 241.67 186.02 244.6 186.9 C247.53 187.78 250.77 188.47 253.4 189 C256.03 189.53 259.23 189.92 260.4 190.1" stroke="#000" stroke-width="1.7" fill="none" stroke-linejoin="round" stroke-linecap="round"/>
<path d="M73.5 77.2 C73.92 78.15 75.12 80.38 76 82.9 C76.88 85.42 77.87 89.48 78.8 92.3 C79.73 95.12 80.67 97.62 81.6 99.8 C82.53 101.98 83.3 103.83 84.4 105.4 C85.5 106.97 87.1 107.95 88.2 109.2 C89.3 110.45 89.9 111.75 91 112.9 C92.1 114.05 93.55 115.37 94.8 116.1 C96.05 116.83 97.1 117.23 98.5 117.3 C99.9 117.37 101.47 116.92 103.2 116.5 C104.93 116.08 107.02 115.48 108.9 114.8 C110.78 114.12 112.95 113.33 114.5 112.4 C116.05 111.47 116.95 110.52 118.2 109.2 C119.45 107.88 120.58 106.17 122 104.5 C123.42 102.83 125.28 100.92 126.7 99.2 C128.12 97.48 129.4 96.3 130.5 94.2 C131.6 92.1 132.37 89.27 133.3 86.6 C134.23 83.93 135 80.85 136.1 78.2 C137.2 75.55 138.8 73.52 139.9 70.7 C141 67.88 141.88 64.72 142.7 61.3 C143.52 57.88 143.98 54.4 144.8 50.2 C145.62 46 146.78 40.08 147.6 36.1 C148.42 32.12 149.18 28.22 149.7 26.3 C150.22 24.38 150.12 24.13 150.7 24.6 C151.28 25.07 152.32 26 153.2 29.1 C154.08 32.2 155.12 38.9 156 43.2 C156.88 47.5 157.62 52.72 158.5 54.9 C159.38 57.08 160.13 54.42 161.3 56.3 C162.47 58.18 164.1 63.62 165.5 66.2 C166.9 68.78 168.42 69.33 169.7 71.8 C170.98 74.27 172.02 77.83 173.2 81 C174.38 84.17 175.73 88.22 176.8 90.8 C177.87 93.38 178.65 94.88 179.6 96.5 C180.55 98.12 181.73 99.45 182.5 100.5 C183.27 101.55 183.33 101.47 184.2 102.8 C185.07 104.13 186.43 105.63 187.7 108.5 C188.97 111.37 190.53 116.92 191.8 120 C193.07 123.08 193.83 124.65 195.3 127 C196.77 129.35 198.55 131.45 200.6 134.1 C202.65 136.75 204.97 139.82 207.6 142.9 C210.23 145.98 213.47 149.52 216.4 152.6 C219.33 155.68 222.55 158.62 225.2 161.4 C227.85 164.18 229.37 166.67 232.3 169.3 C235.23 171.93 239.58 175.03 242.8 177.2 C246.02 179.37 248.67 180.75 251.6 182.3 C254.53 183.85 258.93 185.8 260.4 186.5" stroke="#ff0000" stroke-width="1.7" fill="none" stroke-linejoin="round" stroke-linecap="round"/>
<path d="M90.1 69.7 C90.47 70.8 91.52 73.48 92.3 76.3 C93.08 79.12 93.77 83.32 94.8 86.6 C95.83 89.88 97.1 93.33 98.5 96 C99.9 98.67 101.47 100.72 103.2 102.6 C104.93 104.48 106.87 106.1 108.9 107.3 C110.93 108.5 113.53 109.8 115.4 109.8 C117.27 109.8 118.37 108.65 120.1 107.3 C121.83 105.95 124.07 103.58 125.8 101.7 C127.53 99.82 129.25 98.2 130.5 96 C131.75 93.8 132.3 91.17 133.3 88.5 C134.3 85.83 135.4 82.97 136.5 80 C137.6 77.03 138.87 73.82 139.9 70.7 C140.93 67.58 141.88 64.72 142.7 61.3 C143.52 57.88 143.98 54.4 144.8 50.2 C145.62 46 146.78 40.08 147.6 36.1 C148.42 32.12 149.18 28.22 149.7 26.3 C150.22 24.38 150.12 24.13 150.7 24.6 C151.28 25.07 152.32 26 153.2 29.1 C154.08 32.2 155.25 39.37 156 43.2 C156.75 47.03 156.93 50.62 157.7 52.1 C158.47 53.58 159.77 51.87 160.6 52.1 C161.43 52.33 162.12 52.68 162.7 53.5 C163.28 54.32 163.52 55.23 164.1 57 C164.68 58.77 165.62 62.27 166.2 64.1 C166.78 65.93 167.02 67.25 167.6 68 C168.18 68.75 169.12 68.2 169.7 68.6 C170.28 69 170.63 69.4 171.1 70.4 C171.57 71.4 171.92 72.72 172.5 74.6 C173.08 76.48 173.88 79.23 174.6 81.7 C175.32 84.17 176.08 86.93 176.8 89.4 C177.52 91.87 178.08 94.15 178.9 96.5 C179.72 98.85 180.88 101.25 181.7 103.5 C182.52 105.75 183 107.92 183.8 110 C184.6 112.08 185.47 113.6 186.5 116 C187.53 118.4 188.25 121.53 190 124.4 C191.75 127.27 194.8 131 197 133.2 C199.2 135.4 201.13 135.7 203.2 137.6 C205.27 139.5 207.2 141.95 209.4 144.6 C211.6 147.25 213.77 150.55 216.4 153.5 C219.03 156.45 222.27 159.37 225.2 162.3 C228.13 165.23 231.07 168.62 234 171.1 C236.93 173.58 239.87 175.38 242.8 177.2 C245.73 179.02 248.67 180.47 251.6 182 C254.53 183.53 258.93 185.67 260.4 186.4" stroke="#0000ff" stroke-width="1.7" fill="none" stroke-linejoin="round" stroke-linecap="round"/>
<path d="M107.4 70.7 C107.8 71.48 108.93 73.37 109.8 75.4 C110.67 77.43 111.5 80.25 112.6 82.9 C113.7 85.55 115.15 88.73 116.4 91.3 C117.65 93.87 118.85 97.52 120.1 98.3 C121.35 99.08 122.48 96.6 123.9 96 C125.32 95.4 127.35 95.42 128.6 94.7 C129.85 93.98 130.47 93.52 131.4 91.7 C132.33 89.88 133.27 86.68 134.2 83.8 C135.13 80.92 135.9 77.53 137 74.4 C138.1 71.27 139.7 68.13 140.8 65 C141.9 61.87 142.82 58.77 143.6 55.6 C144.38 52.43 144.83 49.25 145.5 46 C146.17 42.75 146.9 39.38 147.6 36.1 C148.3 32.82 149.18 28.22 149.7 26.3 C150.22 24.38 150.12 24.13 150.7 24.6 C151.28 25.07 152.32 26 153.2 29.1 C154.08 32.2 155.12 39.02 156 43.2 C156.88 47.38 157.62 52.02 158.5 54.2 C159.38 56.38 160.13 54.42 161.3 56.3 C162.47 58.18 164.22 63.15 165.5 65.5 C166.78 67.85 167.83 68.28 169 70.4 C170.17 72.52 171.43 75.5 172.5 78.2 C173.57 80.9 174.45 83.55 175.4 86.6 C176.35 89.65 177.27 93.68 178.2 96.5 C179.13 99.32 180.18 101.25 181 103.5 C181.82 105.75 182.22 107.92 183.1 110 C183.98 112.08 185.15 113.45 186.3 116 C187.45 118.55 188.22 122.13 190 125.3 C191.78 128.47 194.65 131.92 197 135 C199.35 138.08 201.75 141.17 204.1 143.8 C206.45 146.43 208.75 148.6 211.1 150.8 C213.45 153 215.55 154.65 218.2 157 C220.85 159.35 224.37 162.5 227 164.9 C229.63 167.3 231.37 169.2 234 171.4 C236.63 173.6 239.87 176.17 242.8 178.1 C245.73 180.03 248.67 181.53 251.6 183 C254.53 184.47 258.93 186.25 260.4 186.9" stroke="#ff00ff" stroke-width="1.7" fill="none" stroke-linejoin="round" stroke-linecap="round"/>
<path d="M124.4 58.5 C124.78 58.97 125.85 59.9 126.7 61.3 C127.55 62.7 128.72 65.65 129.5 66.9 C130.28 68.15 130.62 69.05 131.4 68.8 C132.18 68.55 133.27 66.03 134.2 65.4 C135.13 64.77 136.05 65.22 137 65 C137.95 64.78 138.95 65.35 139.9 64.1 C140.85 62.85 141.77 60.75 142.7 57.5 C143.63 54.25 144.57 49.1 145.5 44.6 C146.43 40.1 147.43 33.83 148.3 30.5 C149.17 27.17 150 25.3 150.7 24.6 C151.4 23.9 151.85 24.15 152.5 26.3 C153.15 28.45 153.88 33.52 154.6 37.5 C155.32 41.48 156.23 46.67 156.8 50.2 C157.37 53.73 157.38 56.77 158 58.7 C158.62 60.63 159.72 61.05 160.5 61.8 C161.28 62.55 162.07 62.22 162.7 63.2 C163.33 64.18 163.72 65.55 164.3 67.7 C164.88 69.85 165.53 74.23 166.2 76.1 C166.87 77.97 167.48 77.97 168.3 78.9 C169.12 79.83 170.28 80.3 171.1 81.7 C171.92 83.1 172.37 84.6 173.2 87.3 C174.03 90 175.08 94.85 176.1 97.9 C177.12 100.95 178.07 102.67 179.3 105.6 C180.53 108.53 182.1 112.45 183.5 115.5 C184.9 118.55 186.62 121.98 187.7 123.9 C188.78 125.82 188.45 124.72 190 127 C191.55 129.28 194.65 134.52 197 137.6 C199.35 140.68 201.75 142.72 204.1 145.5 C206.45 148.28 208.75 151.65 211.1 154.3 C213.45 156.95 215.85 159.2 218.2 161.4 C220.55 163.6 222.85 165.45 225.2 167.5 C227.55 169.55 229.65 171.78 232.3 173.7 C234.95 175.62 238.17 177.45 241.1 179 C244.03 180.55 246.68 181.62 249.9 183 C253.12 184.38 258.65 186.58 260.4 187.3" stroke="#008000" stroke-width="1.7" fill="none" stroke-linejoin="round" stroke-linecap="round"/>
<path d="M196.3 33 H215.3" stroke="#000" stroke-width="1.6"/>
<text x="217.1" y="33" font-size="8.2" text-anchor="start" font-weight="bold" fill="#000" font-family='"Liberation Serif", serif' dominant-baseline="central" stroke="#000" stroke-width="0.22" >320 nm</text>
<path d="M196.3 43.8 H215.3" stroke="#ff0000" stroke-width="1.6"/>
<text x="217.1" y="43.8" font-size="8.2" text-anchor="start" font-weight="bold" fill="#000" font-family='"Liberation Serif", serif' dominant-baseline="central" stroke="#000" stroke-width="0.22" >360 nm</text>
<path d="M196.3 54.7 H215.3" stroke="#0000ff" stroke-width="1.6"/>
<text x="217.1" y="54.7" font-size="8.2" text-anchor="start" font-weight="bold" fill="#000" font-family='"Liberation Serif", serif' dominant-baseline="central" stroke="#000" stroke-width="0.22" >380 nm</text>
<path d="M196.3 65.5 H215.3" stroke="#ff00ff" stroke-width="1.6"/>
<text x="217.1" y="65.5" font-size="8.2" text-anchor="start" font-weight="bold" fill="#000" font-family='"Liberation Serif", serif' dominant-baseline="central" stroke="#000" stroke-width="0.22" >400 nm</text>
<path d="M196.3 76.2 H215.3" stroke="#008000" stroke-width="1.6"/>
<text x="217.1" y="76.2" font-size="8.2" text-anchor="start" font-weight="bold" fill="#000" font-family='"Liberation Serif", serif' dominant-baseline="central" stroke="#000" stroke-width="0.22" >430 nm</text>
<text x="203.6" y="20" font-size="7.2" text-anchor="middle" font-weight="bold" fill="#000" font-family='"Liberation Serif", serif' dominant-baseline="central" stroke="#000" stroke-width="0.22" >&#955;</text>
<text x="205.5" y="22.2" font-size="9.2" text-anchor="start" font-weight="bold" fill="#000" font-family='"Liberation Serif", serif' dominant-baseline="central" stroke="#000" stroke-width="0.22" >ex</text>
<g>
<defs>
<linearGradient id="vialA" x1="0" x2="1" y1="0" y2="0">
<stop offset="0" stop-color="#d4d4d0"/><stop offset="0.04" stop-color="#e8e8e4"/><stop offset="0.07" stop-color="#6e6e66"/><stop offset="0.12" stop-color="#a4a27e"/><stop offset="0.25" stop-color="#d2d2b2"/><stop offset="0.3" stop-color="#b0ae88"/><stop offset="0.7" stop-color="#b4b28c"/><stop offset="0.8" stop-color="#d0cead"/><stop offset="0.87" stop-color="#a2a082"/><stop offset="0.94" stop-color="#6a6a62"/><stop offset="1" stop-color="#a0a098"/>
</linearGradient>
<linearGradient id="vialAv" x1="0" x2="0" y1="0" y2="1">
<stop offset="0" stop-color="#707068" stop-opacity="0.8"/><stop offset="0.09" stop-color="#707068" stop-opacity="0.5"/><stop offset="0.12" stop-color="#ffffff" stop-opacity="0"/><stop offset="0.85" stop-color="#ffffff" stop-opacity="0"/><stop offset="0.9" stop-color="#f4ecc0" stop-opacity="0.6"/><stop offset="1" stop-color="#e8e0b8" stop-opacity="0.5"/>
</linearGradient>
<linearGradient id="vialB" x1="0" x2="0" y1="0" y2="1">
<stop offset="0" stop-color="#0a28f0"/><stop offset="0.3" stop-color="#0c30f2"/><stop offset="0.5" stop-color="#1050f6"/><stop offset="0.82" stop-color="#1878fc"/><stop offset="0.86" stop-color="#0a30e8"/><stop offset="1" stop-color="#0620c8"/>
</linearGradient>
<radialGradient id="glow" cx="0.5" cy="0.72" r="0.55" gradientTransform="translate(0.5 0.72) scale(1 1.3) translate(-0.5 -0.72)">
<stop offset="0" stop-color="#28b4ff" stop-opacity="0.95"/><stop offset="0.5" stop-color="#1c90ff" stop-opacity="0.6"/><stop offset="1" stop-color="#1060ff" stop-opacity="0"/>
</radialGradient>
<linearGradient id="edgeB" x1="0" x2="1" y1="0" y2="0">
<stop offset="0" stop-color="#0a24e0" stop-opacity="0.8"/><stop offset="0.07" stop-color="#38d0ff" stop-opacity="0.85"/><stop offset="0.16" stop-color="#38d0ff" stop-opacity="0"/><stop offset="0.88" stop-color="#0a24e0" stop-opacity="0"/><stop offset="1" stop-color="#0a22d0" stop-opacity="0.9"/>
</linearGradient>
<linearGradient id="edgeBv" x1="0" x2="0" y1="0" y2="1">
<stop offset="0" stop-color="#fff" stop-opacity="0"/><stop offset="0.35" stop-color="#fff" stop-opacity="1"/><stop offset="1" stop-color="#fff" stop-opacity="1"/>
</linearGradient>
<mask id="mB"><rect x="71.2" y="11.6" width="27.5" height="47" fill="url(#edgeBv)"/></mask>
</defs>
<rect x="45.1" y="11.1" width="54.1" height="55.4" fill="#c8c8c0" stroke="#a8a8a8" stroke-width="0.8"/>
<rect x="45.6" y="11.6" width="25.6" height="54.4" fill="url(#vialA)"/>
<rect x="45.6" y="11.6" width="25.6" height="54.4" fill="url(#vialAv)"/>
<rect x="71.2" y="11.6" width="27.5" height="54.4" fill="url(#vialB)"/>
<rect x="71.2" y="20" width="27.5" height="38.3" fill="url(#glow)"/>
<rect x="71.2" y="11.6" width="27.5" height="46.7" fill="url(#edgeB)" mask="url(#mB)"/>
<rect x="71.2" y="58.3" width="27.5" height="0.8" fill="#2070ff"/>
<rect x="71.2" y="11.6" width="27.5" height="2" fill="#2a48f4" opacity="0.6"/>
</g>
<text x="59.7" y="21.9" font-size="6.3" text-anchor="middle" font-weight="bold" fill="#fff" font-family='"Liberation Serif", serif' dominant-baseline="central" stroke="#fff" stroke-width="0.22" >(a)</text>
<text x="83" y="21.9" font-size="6.3" text-anchor="middle" font-weight="bold" fill="#fff" font-family='"Liberation Serif", serif' dominant-baseline="central" stroke="#fff" stroke-width="0.22" >(b)</text>
<rect x="300.3" y="6.5" width="228.49999999999994" height="185.5" fill="none" stroke="#000" stroke-width="1.6"/>
<path d="M300.3 192 V195 M323.15 192 V194 M346 192 V195 M368.85 192 V194 M391.7 192 V195 M414.55 192 V194 M437.4 192 V195 M460.25 192 V194 M483.1 192 V195 M505.95 192 V194 M528.8 192 V195 M300.3 192 H297.3 M300.3 10.21 H297.3" stroke="#000" stroke-width="1.5" fill="none"/>
<text x="300.3" y="202.3" font-size="8" text-anchor="middle" font-weight="bold" fill="#000" font-family='"Liberation Serif", serif' dominant-baseline="central" stroke="#000" stroke-width="0.22" >300</text>
<text x="346" y="202.3" font-size="8" text-anchor="middle" font-weight="bold" fill="#000" font-family='"Liberation Serif", serif' dominant-baseline="central" stroke="#000" stroke-width="0.22" >400</text>
<text x="391.7" y="202.3" font-size="8" text-anchor="middle" font-weight="bold" fill="#000" font-family='"Liberation Serif", serif' dominant-baseline="central" stroke="#000" stroke-width="0.22" >500</text>
<text x="437.4" y="202.3" font-size="8" text-anchor="middle" font-weight="bold" fill="#000" font-family='"Liberation Serif", serif' dominant-baseline="central" stroke="#000" stroke-width="0.22" >600</text>
<text x="483.1" y="202.3" font-size="8" text-anchor="middle" font-weight="bold" fill="#000" font-family='"Liberation Serif", serif' dominant-baseline="central" stroke="#000" stroke-width="0.22" >700</text>
<text x="528.8" y="202.3" font-size="8" text-anchor="middle" font-weight="bold" fill="#000" font-family='"Liberation Serif", serif' dominant-baseline="central" stroke="#000" stroke-width="0.22" >800</text>
<text x="294.2" y="10.21" font-size="8" text-anchor="end" font-weight="bold" fill="#000" font-family='"Liberation Serif", serif' dominant-baseline="central" stroke="#000" stroke-width="0.22" >0.49</text>
<text x="294.2" y="192" font-size="8" text-anchor="end" font-weight="bold" fill="#000" font-family='"Liberation Serif", serif' dominant-baseline="central" stroke="#000" stroke-width="0.22" >0.00</text>
<text x="414.5" y="213.7" font-size="8.4" text-anchor="middle" font-weight="bold" fill="#000" font-family='"Liberation Serif", serif' dominant-baseline="central" stroke="#000" stroke-width="0.22" >Wavelength (nm)</text>
<text x="0" y="0" font-size="8.75" text-anchor="middle" font-weight="bold" fill="#000" font-family='"Liberation Serif", serif' dominant-baseline="central" stroke="#000" stroke-width="0.22" transform="translate(288.3 93.3) rotate(-90)">Normalised Absorption (a.u)</text>
<text x="0" y="0" font-size="8.76" text-anchor="middle" font-weight="bold" fill="#000" font-family='"Liberation Serif", serif' dominant-baseline="central" stroke="#000" stroke-width="0.22" transform="translate(539.3 100.9) rotate(-90)">Normalised Emission (a.u)</text>
<text x="421.9" y="19" font-size="16.3" text-anchor="middle" font-weight="bold" fill="#000" font-family='"Liberation Serif", serif' dominant-baseline="central" stroke="#000" stroke-width="0.22" >(b)</text>
<path d="M300.8 91.5 C300.97 92.52 301.02 95.02 301.8 97.6 C302.58 100.18 304.25 103.87 305.5 107 C306.75 110.13 308.05 113.73 309.3 116.4 C310.55 119.07 311.75 121.37 313 123 C314.25 124.63 315.53 126.05 316.8 126.2 C318.07 126.35 319.35 125.53 320.6 123.9 C321.85 122.27 323.05 119.07 324.3 116.4 C325.55 113.73 326.85 110.57 328.1 107.9 C329.35 105.23 330.55 102.75 331.8 100.4 C333.05 98.05 334.18 95.98 335.6 93.8 C337.02 91.62 338.73 89.33 340.3 87.3 C341.87 85.27 343.43 83.12 345 81.6 C346.57 80.08 348.13 78.98 349.7 78.2 C351.27 77.42 352.98 76.8 354.4 76.9 C355.82 77 356.95 77.7 358.2 78.8 C359.45 79.9 360.65 81.47 361.9 83.5 C363.15 85.53 364.45 88.18 365.7 91 C366.95 93.82 368.15 96.95 369.4 100.4 C370.65 103.85 371.95 107.78 373.2 111.7 C374.45 115.62 375.65 119.67 376.9 123.9 C378.15 128.13 379.6 133.12 380.7 137.1 C381.8 141.08 382.13 144.07 383.5 147.8 C384.87 151.53 386.78 155.87 388.9 159.5 C391.02 163.13 393.53 166.8 396.2 169.6 C398.87 172.4 401.52 174.45 404.9 176.3 C408.28 178.15 412.62 179.53 416.5 180.7 C420.38 181.87 423.83 182.38 428.2 183.3 C432.57 184.22 437.85 185.42 442.7 186.2 C447.55 186.98 452.45 187.47 457.3 188 C462.15 188.53 466.95 189.02 471.8 189.4 C476.65 189.78 481.55 190.05 486.4 190.3 C491.25 190.55 496.3 190.73 500.9 190.9 C505.5 191.07 509.48 191.18 514 191.3 C518.52 191.42 525.67 191.55 528 191.6" stroke="#000" stroke-width="2.1" fill="none" stroke-linecap="round" stroke-dasharray="0 4.35"/>
<path d="M318.3 104.7 C318.98 104.3 320.93 103.17 322.4 102.3 C323.87 101.43 325.53 100.22 327.1 99.5 C328.67 98.78 330.23 98.32 331.8 98 C333.37 97.68 334.93 97.35 336.5 97.6 C338.07 97.85 339.63 98.57 341.2 99.5 C342.77 100.43 344.33 101.8 345.9 103.2 C347.47 104.6 349.03 106.48 350.6 107.9 C352.17 109.32 353.73 110.6 355.3 111.7 C356.87 112.8 358.27 113.72 360 114.5 C361.73 115.28 363.82 115.93 365.7 116.4 C367.58 116.87 369.73 116.98 371.3 117.3 C372.87 117.62 373.85 118.45 375.1 118.3 C376.35 118.15 377.23 117.1 378.8 116.4 C380.37 115.7 382.62 114.57 384.5 114.1 C386.38 113.63 388.18 113.75 390.1 113.6 C392.02 113.45 394.02 113.55 396 113.2 C397.98 112.85 399.98 112.23 402 111.5 C404.02 110.77 405.73 109.57 408.1 108.8 C410.47 108.03 413.95 107.57 416.2 106.9 C418.45 106.23 419.8 105.83 421.6 104.8 C423.4 103.77 424.75 102.5 427 100.7 C429.25 98.9 432.63 96.47 435.1 94 C437.57 91.53 439.78 88.82 441.8 85.9 C443.82 82.98 445.4 79.42 447.2 76.5 C449 73.58 450.8 71.78 452.6 68.4 C454.4 65.02 456.43 60.47 458 56.2 C459.57 51.93 460.88 47.28 462 42.8 C463.12 38.32 463.7 33.13 464.7 29.3 C465.7 25.47 467 20.93 468 19.8 C469 18.67 469.67 20.02 470.7 22.5 C471.73 24.98 473.03 31.1 474.2 34.7 C475.37 38.3 476.35 41.95 477.7 44.1 C479.05 46.25 480.87 46.03 482.3 47.6 C483.73 49.17 484.73 51.17 486.3 53.5 C487.87 55.83 490.13 59.57 491.7 61.6 C493.27 63.63 494.35 63.67 495.7 65.7 C497.05 67.73 498.45 70.88 499.8 73.8 C501.15 76.72 502.45 80.28 503.8 83.2 C505.15 86.12 506.32 88.6 507.9 91.3 C509.48 94 511.28 96.7 513.3 99.4 C515.32 102.1 517.75 104.35 520 107.5 C522.25 110.65 525.67 116.5 526.8 118.3" stroke="#ff0000" stroke-width="2.1" fill="none" stroke-linecap="round" stroke-dasharray="0 4.35"/>
<path d="M306.6 168.5 H327" stroke="#000" stroke-width="2.1" stroke-linecap="round" stroke-dasharray="0 4.35"/>
<path d="M306.6 179.7 H327" stroke="#ff0000" stroke-width="2.1" stroke-linecap="round" stroke-dasharray="0 4.35"/>
<text x="329.2" y="168.5" font-size="8.4" text-anchor="start" font-weight="bold" fill="#000" font-family='"Liberation Serif", serif' dominant-baseline="central" stroke="#000" stroke-width="0.22" >Absorption</text>
<text x="329.2" y="179.7" font-size="8.4" text-anchor="start" font-weight="bold" fill="#000" font-family='"Liberation Serif", serif' dominant-baseline="central" stroke="#000" stroke-width="0.22" >Emission</text>
<rect x="44.0" y="229.2" width="216.60000000000002" height="166.0" fill="none" stroke="#000" stroke-width="1.6"/>
<path d="M57.4 395.2 V398.2 M70.97 395.2 V397.2 M84.53 395.2 V398.2 M98.09 395.2 V397.2 M111.66 395.2 V398.2 M125.22 395.2 V397.2 M138.79 395.2 V398.2 M152.36 395.2 V397.2 M165.92 395.2 V398.2 M179.48 395.2 V397.2 M193.05 395.2 V398.2 M206.61 395.2 V397.2 M220.18 395.2 V398.2 M233.75 395.2 V397.2 M247.31 395.2 V398.2 M44 390.1 H40.5 M44 377.72 H42 M44 365.33 H40.5 M44 352.95 H42 M44 340.56 H40.5 M44 328.18 H42 M44 315.79 H40.5 M44 303.41 H42 M44 291.02 H40.5 M44 278.63 H42 M44 266.25 H40.5 M44 253.87 H42 M44 241.48 H40.5" stroke="#000" stroke-width="1.5" fill="none"/>
<text x="0" y="0" font-size="7.7" text-anchor="middle" font-weight="bold" fill="#000" font-family='"Liberation Serif", serif' dominant-baseline="central" stroke="#000" stroke-width="0.22" transform="translate(58.3 405.6) scale(1 0.85)">0.02</text>
<text x="0" y="0" font-size="7.7" text-anchor="middle" font-weight="bold" fill="#000" font-family='"Liberation Serif", serif' dominant-baseline="central" stroke="#000" stroke-width="0.22" transform="translate(85.43 405.6) scale(1 0.85)">0.03</text>
<text x="0" y="0" font-size="7.7" text-anchor="middle" font-weight="bold" fill="#000" font-family='"Liberation Serif", serif' dominant-baseline="central" stroke="#000" stroke-width="0.22" transform="translate(112.56 405.6) scale(1 0.85)">0.04</text>
<text x="0" y="0" font-size="7.7" text-anchor="middle" font-weight="bold" fill="#000" font-family='"Liberation Serif", serif' dominant-baseline="central" stroke="#000" stroke-width="0.22" transform="translate(139.69 405.6) scale(1 0.85)">0.05</text>
<text x="0" y="0" font-size="7.7" text-anchor="middle" font-weight="bold" fill="#000" font-family='"Liberation Serif", serif' dominant-baseline="central" stroke="#000" stroke-width="0.22" transform="translate(166.82 405.6) scale(1 0.85)">0.06</text>
<text x="0" y="0" font-size="7.7" text-anchor="middle" font-weight="bold" fill="#000" font-family='"Liberation Serif", serif' dominant-baseline="central" stroke="#000" stroke-width="0.22" transform="translate(193.95 405.6) scale(1 0.85)">0.07</text>
<text x="0" y="0" font-size="7.7" text-anchor="middle" font-weight="bold" fill="#000" font-family='"Liberation Serif", serif' dominant-baseline="central" stroke="#000" stroke-width="0.22" transform="translate(221.08 405.6) scale(1 0.85)">0.08</text>
<text x="0" y="0" font-size="7.7" text-anchor="middle" font-weight="bold" fill="#000" font-family='"Liberation Serif", serif' dominant-baseline="central" stroke="#000" stroke-width="0.22" transform="translate(248.21 405.6) scale(1 0.85)">0.09</text>
<text x="0" y="0" font-size="7.8" text-anchor="end" font-weight="bold" fill="#000" font-family='"Liberation Serif", serif' dominant-baseline="central" stroke="#000" stroke-width="0.22" transform="translate(37.7 390.7) scale(1 0.88)">0</text>
<text x="0" y="0" font-size="7.8" text-anchor="end" font-weight="bold" fill="#000" font-family='"Liberation Serif", serif' dominant-baseline="central" stroke="#000" stroke-width="0.22" transform="translate(37.7 365.93) scale(1 0.88)">50000</text>
<text x="0" y="0" font-size="7.8" text-anchor="end" font-weight="bold" fill="#000" font-family='"Liberation Serif", serif' dominant-baseline="central" stroke="#000" stroke-width="0.22" transform="translate(37.7 341.16) scale(1 0.88)">100000</text>
<text x="0" y="0" font-size="7.8" text-anchor="end" font-weight="bold" fill="#000" font-family='"Liberation Serif", serif' dominant-baseline="central" stroke="#000" stroke-width="0.22" transform="translate(37.7 316.39) scale(1 0.88)">150000</text>
<text x="0" y="0" font-size="7.8" text-anchor="end" font-weight="bold" fill="#000" font-family='"Liberation Serif", serif' dominant-baseline="central" stroke="#000" stroke-width="0.22" transform="translate(37.7 291.62) scale(1 0.88)">200000</text>
<text x="0" y="0" font-size="7.8" text-anchor="end" font-weight="bold" fill="#000" font-family='"Liberation Serif", serif' dominant-baseline="central" stroke="#000" stroke-width="0.22" transform="translate(37.7 266.85) scale(1 0.88)">250000</text>
<text x="0" y="0" font-size="7.8" text-anchor="end" font-weight="bold" fill="#000" font-family='"Liberation Serif", serif' dominant-baseline="central" stroke="#000" stroke-width="0.22" transform="translate(37.7 242.08) scale(1 0.88)">300000</text>
<text x="0" y="0" font-size="7.8" text-anchor="middle" font-weight="bold" fill="#000" font-family='"Liberation Serif", serif' dominant-baseline="central" stroke="#000" stroke-width="0.22" textLength="58.3" lengthAdjust="spacing" transform="translate(155.6 416.9) scale(1 0.95)">Absorbance (a.u)</text>
<text x="0" y="0" font-size="8" text-anchor="middle" font-weight="bold" fill="#000" font-family='"Liberation Serif", serif' dominant-baseline="central" stroke="#000" stroke-width="0.22" transform="translate(8.4 310.4) rotate(-90)">Integrated fluorescence intensity (a.u)</text>
<text x="140.6" y="240.7" font-size="16.5" text-anchor="middle" font-weight="bold" fill="#000" font-family='"Liberation Serif", serif' dominant-baseline="central" stroke="#000" stroke-width="0.22" >(c)</text>
<path d="M56 324.1 L191.8 241.5" stroke="#ff0000" stroke-width="1.7" stroke-dasharray="3.8 3.2"/>
<rect x="55.8" y="324.6" width="3.6" height="3.6" fill="#000"/>
<rect x="82.9" y="306.4" width="3.6" height="3.6" fill="#000"/>
<rect x="137.4" y="270.5" width="3.6" height="3.6" fill="#000"/>
<rect x="164.6" y="252.2" width="3.6" height="3.6" fill="#000"/>
<rect x="191.4" y="242.4" width="3.6" height="3.6" fill="#000"/>
<path d="M111.5 389.6 H247.3" stroke="#000" stroke-width="1.8" stroke-dasharray="3.6 2.9"/>
<circle cx="111.66" cy="389.6" r="2" fill="#ff0000"/>
<circle cx="138.79" cy="389.6" r="2" fill="#ff0000"/>
<circle cx="193.05" cy="389.6" r="2" fill="#ff0000"/>
<circle cx="220.18" cy="389.6" r="2" fill="#ff0000"/>
<circle cx="247.31" cy="389.6" r="2" fill="#ff0000"/>
<rect x="71.9" y="342.3" width="2.8" height="2.8" fill="#000"/>
<circle cx="73.2" cy="354.7" r="1.6" fill="#ff0000"/>
<text x="83.6" y="343.2" font-size="7.6" text-anchor="start" font-weight="bold" fill="#000" font-family='"Liberation Serif", serif' dominant-baseline="central" stroke="#000" stroke-width="0.22" textLength="155.5" lengthAdjust="spacingAndGlyphs">Quinine sulphate (Slope = 3406980, R<tspan dy="-2.6" font-size="5">2</tspan><tspan dy="2.6">= 0.99)</tspan></text>
<text x="83.6" y="354.1" font-size="7.6" text-anchor="start" font-weight="bold" fill="#000" font-family='"Liberation Serif", serif' dominant-baseline="central" stroke="#000" stroke-width="0.22" textLength="124.8" lengthAdjust="spacingAndGlyphs">AgNPs (Slope = 3537.436, R<tspan dy="-2.6" font-size="5">2</tspan><tspan dy="2.6"> = 0.94)</tspan></text>
<path d="M301.3 227 H529.8 V393.1 M305.5 227 V393.1 M298.2 393.1 H529.8" stroke="#000" stroke-width="1.6" fill="none"/>
<path d="M305.5 393.1 V397.4 M333.54 393.1 V395.4 M361.58 393.1 V397.4 M389.62 393.1 V395.4 M417.66 393.1 V397.4 M445.7 393.1 V395.4 M473.74 393.1 V397.4 M501.78 393.1 V395.4 M529.82 393.1 V397.4 M305.5 374.61 H301.5 M305.5 356.12 H297.7 M305.5 337.63 H301.5 M305.5 319.14 H297.7 M305.5 300.65 H301.5 M305.5 282.16 H297.7 M305.5 263.67 H301.5 M305.5 245.18 H297.7" stroke="#000" stroke-width="1.5" fill="none"/>
<text x="305.5" y="402.1" font-size="9.5" text-anchor="middle" font-weight="bold" fill="#000" font-family='"Liberation Serif", serif' dominant-baseline="central" stroke="#000" stroke-width="0.22" textLength="5.8" lengthAdjust="spacingAndGlyphs">o</text>
<text x="361.58" y="402.4" font-size="8.5" text-anchor="middle" font-weight="bold" fill="#000" font-family='"Liberation Serif", serif' dominant-baseline="central" stroke="#000" stroke-width="0.22" textLength="16" lengthAdjust="spacingAndGlyphs">o.2</text>
<text x="417.66" y="402.4" font-size="8.5" text-anchor="middle" font-weight="bold" fill="#000" font-family='"Liberation Serif", serif' dominant-baseline="central" stroke="#000" stroke-width="0.22" textLength="16" lengthAdjust="spacingAndGlyphs">o.4</text>
<text x="473.74" y="402.4" font-size="8.5" text-anchor="middle" font-weight="bold" fill="#000" font-family='"Liberation Serif", serif' dominant-baseline="central" stroke="#000" stroke-width="0.22" textLength="16" lengthAdjust="spacingAndGlyphs">o.6</text>
<text x="529.82" y="402.4" font-size="8.5" text-anchor="middle" font-weight="bold" fill="#000" font-family='"Liberation Serif", serif' dominant-baseline="central" stroke="#000" stroke-width="0.22" textLength="16" lengthAdjust="spacingAndGlyphs">o.8</text>
<text x="288.2" y="355.12" font-size="8.5" text-anchor="middle" font-weight="bold" fill="#000" font-family='"Liberation Serif", serif' dominant-baseline="central" stroke="#000" stroke-width="0.22" textLength="16" lengthAdjust="spacingAndGlyphs">o.2</text>
<text x="288.2" y="318.14" font-size="8.5" text-anchor="middle" font-weight="bold" fill="#000" font-family='"Liberation Serif", serif' dominant-baseline="central" stroke="#000" stroke-width="0.22" textLength="16" lengthAdjust="spacingAndGlyphs">o.4</text>
<text x="288.2" y="281.16" font-size="8.5" text-anchor="middle" font-weight="bold" fill="#000" font-family='"Liberation Serif", serif' dominant-baseline="central" stroke="#000" stroke-width="0.22" textLength="16" lengthAdjust="spacingAndGlyphs">o.6</text>
<text x="288.2" y="244.18" font-size="8.5" text-anchor="middle" font-weight="bold" fill="#000" font-family='"Liberation Serif", serif' dominant-baseline="central" stroke="#000" stroke-width="0.22" textLength="16" lengthAdjust="spacingAndGlyphs">o.8</text>
<text x="419" y="409.5" font-size="9.6" text-anchor="middle" font-weight="normal" fill="#000" font-family='"Liberation Serif", serif' dominant-baseline="central" stroke="#000" stroke-width="0.22" >x</text>
<text x="275.4" y="310.3" font-size="10" text-anchor="middle" font-weight="normal" fill="#000" font-family='"Liberation Serif", serif' dominant-baseline="central" stroke="#000" stroke-width="0.22" >y</text>
<text x="426.2" y="236.4" font-size="16.5" text-anchor="middle" font-weight="bold" fill="#000" font-family='"Liberation Serif", serif' dominant-baseline="central" stroke="#000" stroke-width="0.22" >(d)</text>
<text x="441.9" y="231.7" font-size="7" text-anchor="middle" font-weight="normal" fill="#ff00ff" font-family='"Liberation Sans", sans-serif' dominant-baseline="central"  >&#8711;</text>
<text x="459" y="232.4" font-size="7.5" text-anchor="middle" font-weight="bold" fill="#ff00ff" font-family='"Liberation Sans", sans-serif' dominant-baseline="central"  textLength="21" lengthAdjust="spacingAndGlyphs">430</text>
<text x="351.8" y="355.2" font-size="8" text-anchor="middle" font-weight="normal" fill="#e020e0" font-family='"Liberation Sans", sans-serif' dominant-baseline="central"  >&#8711;</text>
<text x="326.2" y="233.2" font-size="6" text-anchor="middle" font-weight="bold" fill="#2588e6" font-family='"Liberation Sans", sans-serif' dominant-baseline="central"  textLength="13.8" lengthAdjust="spacingAndGlyphs" stroke="#2588e6" stroke-width="0.25">520</text>
<text x="379.1" y="247.7" font-size="6" text-anchor="middle" font-weight="bold" fill="#2588e6" font-family='"Liberation Sans", sans-serif' dominant-baseline="central"  textLength="13.8" lengthAdjust="spacingAndGlyphs" stroke="#2588e6" stroke-width="0.25">540</text>
<text x="420.1" y="272.3" font-size="6" text-anchor="middle" font-weight="bold" fill="#2588e6" font-family='"Liberation Sans", sans-serif' dominant-baseline="central"  textLength="13.8" lengthAdjust="spacingAndGlyphs" stroke="#2588e6" stroke-width="0.25">560</text>
<text x="458.6" y="298.3" font-size="6" text-anchor="middle" font-weight="bold" fill="#2588e6" font-family='"Liberation Sans", sans-serif' dominant-baseline="central"  textLength="13.8" lengthAdjust="spacingAndGlyphs" stroke="#2588e6" stroke-width="0.25">580</text>
<text x="491.7" y="319.6" font-size="6" text-anchor="middle" font-weight="bold" fill="#2588e6" font-family='"Liberation Sans", sans-serif' dominant-baseline="central"  textLength="13.8" lengthAdjust="spacingAndGlyphs" stroke="#2588e6" stroke-width="0.25">600</text>
<text x="509" y="331.4" font-size="6" text-anchor="middle" font-weight="bold" fill="#2588e6" font-family='"Liberation Sans", sans-serif' dominant-baseline="central"  textLength="13.8" lengthAdjust="spacingAndGlyphs" stroke="#2588e6" stroke-width="0.25">620</text>
<text x="523.8" y="343.2" font-size="6" text-anchor="middle" font-weight="bold" fill="#2588e6" font-family='"Liberation Sans", sans-serif' dominant-baseline="central"  textLength="13.8" lengthAdjust="spacingAndGlyphs" stroke="#2588e6" stroke-width="0.25">700</text>
<text x="295.6" y="293.5" font-size="6" text-anchor="middle" font-weight="bold" fill="#2588e6" font-family='"Liberation Sans", sans-serif' dominant-baseline="central"  textLength="13.8" lengthAdjust="spacingAndGlyphs" stroke="#2588e6" stroke-width="0.25">500</text>
<text x="311.5" y="342.7" font-size="6" text-anchor="middle" font-weight="bold" fill="#2588e6" font-family='"Liberation Sans", sans-serif' dominant-baseline="central"  textLength="13.8" lengthAdjust="spacingAndGlyphs" stroke="#2588e6" stroke-width="0.25">490</text>
<text x="319.7" y="369.8" font-size="6" text-anchor="middle" font-weight="bold" fill="#2588e6" font-family='"Liberation Sans", sans-serif' dominant-baseline="central"  textLength="13.8" lengthAdjust="spacingAndGlyphs" stroke="#2588e6" stroke-width="0.25">480</text>
<text x="329" y="383.8" font-size="6" text-anchor="middle" font-weight="bold" fill="#2588e6" font-family='"Liberation Sans", sans-serif' dominant-baseline="central"  textLength="13.8" lengthAdjust="spacingAndGlyphs" stroke="#2588e6" stroke-width="0.25">470</text>
<text x="335.3" y="390.5" font-size="6" text-anchor="middle" font-weight="bold" fill="#2588e6" font-family='"Liberation Sans", sans-serif' dominant-baseline="central"  textLength="13.8" lengthAdjust="spacingAndGlyphs" stroke="#2588e6" stroke-width="0.25">460</text>
<text x="367" y="393.8" font-size="6" text-anchor="middle" font-weight="bold" fill="#2588e6" font-family='"Liberation Sans", sans-serif' dominant-baseline="central"  textLength="13.8" lengthAdjust="spacingAndGlyphs" stroke="#2588e6" stroke-width="0.25">380</text>
<path d="M345.33 388.19 L343.62 390.01 M339.69 382.94 L337.81 384.58 M330.4 368.95 L328.2 370.14 M317.43 338.62 L314.94 338.82 M307.06 293.24 L304.76 292.25 M325.85 238.3 L324.32 236.32 M369.61 252.88 L368.77 250.52 M410.29 276.85 L410.83 274.41 M449.9 302.73 L452.08 301.5 M482.11 324.15 L484.6 323.91 M500.2 336.13 L502.69 336.23 M512.31 344.13 L514.79 344.39" stroke="#999" stroke-width="0.6" fill="none"/>
<polygon points="354.32,392.18 353.11,391.96 352.04,391.35 350.88,390.67 349.69,389.99 348.51,389.31 347.48,388.68 346.3,387.9 345,386.97 344.03,386.19 342.93,385.2 341.68,383.95 340.3,382.41 338.78,380.57 337.97,379.51 337.12,378.34 336.23,377.05 335.3,375.64 334.33,374.09 333.31,372.4 332.23,370.56 331.1,368.56 329.91,366.41 328.66,364.08 327.38,361.57 326.08,358.88 324.76,355.99 323.45,352.9 322.14,349.61 320.83,346.12 319.53,342.44 318.23,338.55 316.94,334.48 315.66,330.24 314.41,325.87 313.22,321.37 312.09,316.79 311.04,312.15 310.07,307.48 309.21,302.8 308.44,298.15 307.8,293.55 307.28,289.03 306.89,284.6 306.64,280.28 306.54,276.09 306.59,272.03 306.81,268.12 307.2,264.38 307.76,260.83 308.49,257.49 309.4,254.39 310.49,251.54 311.74,248.96 313.16,246.66 314.72,244.65 316.41,242.96 318.22,241.59 320.13,240.52 322.13,239.73 324.2,239.21 326.33,238.93 328.51,238.88 330.73,239.02 332.97,239.33 335.24,239.78 337.52,240.34 339.81,240.98 342.1,241.68 344.38,242.45 346.64,243.25 348.88,244.09 351.08,244.95 353.24,245.82 355.38,246.72 357.49,247.64 359.59,248.58 361.67,249.55 363.73,250.53 365.79,251.55 367.84,252.58 369.88,253.63 371.92,254.7 373.95,255.8 375.98,256.91 378.01,258.03 380.03,259.18 382.05,260.33 384.06,261.51 386.06,262.69 388.07,263.89 390.07,265.09 392.07,266.31 394.07,267.54 396.07,268.77 398.07,270.02 400.08,271.27 402.09,272.53 404.1,273.8 406.1,275.07 408.11,276.35 410.12,277.63 412.12,278.92 414.12,280.21 416.11,281.5 418.11,282.79 420.1,284.08 422.09,285.38 424.08,286.67 426.07,287.96 428.05,289.25 430.03,290.54 431.99,291.82 433.95,293.1 435.89,294.38 437.83,295.65 439.76,296.92 441.67,298.17 443.57,299.42 445.47,300.67 447.34,301.9 449.2,303.13 451.05,304.34 452.88,305.55 454.69,306.74 456.49,307.92 458.26,309.08 460.01,310.23 461.74,311.36 463.45,312.48 465.13,313.58 466.79,314.67 468.41,315.73 470,316.79 471.56,317.81 473.08,318.82 474.55,319.79 475.98,320.73 477.37,321.64 478.71,322.52 480.03,323.38 481.31,324.22 482.57,325.05 483.79,325.86 484.99,326.64 486.14,327.4 487.26,328.13 488.33,328.82 489.35,329.49 491.28,330.75 493.06,331.92 494.7,332.99 496.2,333.99 497.57,334.89 498.81,335.71 499.95,336.46 501,337.14 502.39,338.05 503.62,338.86 504.72,339.58 506.01,340.44 507.11,341.16 508.23,341.88 509.35,342.62 510.39,343.31 511.41,343.98 511.51,344.05" fill="none" stroke="#555" stroke-width="0.4" stroke-opacity="0.8"/>
<clipPath id="hs"><polygon points="354.32,392.18 353.11,391.96 352.04,391.35 350.88,390.67 349.69,389.99 348.51,389.31 347.48,388.68 346.3,387.9 345,386.97 344.03,386.19 342.93,385.2 341.68,383.95 340.3,382.41 338.78,380.57 337.97,379.51 337.12,378.34 336.23,377.05 335.3,375.64 334.33,374.09 333.31,372.4 332.23,370.56 331.1,368.56 329.91,366.41 328.66,364.08 327.38,361.57 326.08,358.88 324.76,355.99 323.45,352.9 322.14,349.61 320.83,346.12 319.53,342.44 318.23,338.55 316.94,334.48 315.66,330.24 314.41,325.87 313.22,321.37 312.09,316.79 311.04,312.15 310.07,307.48 309.21,302.8 308.44,298.15 307.8,293.55 307.28,289.03 306.89,284.6 306.64,280.28 306.54,276.09 306.59,272.03 306.81,268.12 307.2,264.38 307.76,260.83 308.49,257.49 309.4,254.39 310.49,251.54 311.74,248.96 313.16,246.66 314.72,244.65 316.41,242.96 318.22,241.59 320.13,240.52 322.13,239.73 324.2,239.21 326.33,238.93 328.51,238.88 330.73,239.02 332.97,239.33 335.24,239.78 337.52,240.34 339.81,240.98 342.1,241.68 344.38,242.45 346.64,243.25 348.88,244.09 351.08,244.95 353.24,245.82 355.38,246.72 357.49,247.64 359.59,248.58 361.67,249.55 363.73,250.53 365.79,251.55 367.84,252.58 369.88,253.63 371.92,254.7 373.95,255.8 375.98,256.91 378.01,258.03 380.03,259.18 382.05,260.33 384.06,261.51 386.06,262.69 388.07,263.89 390.07,265.09 392.07,266.31 394.07,267.54 396.07,268.77 398.07,270.02 400.08,271.27 402.09,272.53 404.1,273.8 406.1,275.07 408.11,276.35 410.12,277.63 412.12,278.92 414.12,280.21 416.11,281.5 418.11,282.79 420.1,284.08 422.09,285.38 424.08,286.67 426.07,287.96 428.05,289.25 430.03,290.54 431.99,291.82 433.95,293.1 435.89,294.38 437.83,295.65 439.76,296.92 441.67,298.17 443.57,299.42 445.47,300.67 447.34,301.9 449.2,303.13 451.05,304.34 452.88,305.55 454.69,306.74 456.49,307.92 458.26,309.08 460.01,310.23 461.74,311.36 463.45,312.48 465.13,313.58 466.79,314.67 468.41,315.73 470,316.79 471.56,317.81 473.08,318.82 474.55,319.79 475.98,320.73 477.37,321.64 478.71,322.52 480.03,323.38 481.31,324.22 482.57,325.05 483.79,325.86 484.99,326.64 486.14,327.4 487.26,328.13 488.33,328.82 489.35,329.49 491.28,330.75 493.06,331.92 494.7,332.99 496.2,333.99 497.57,334.89 498.81,335.71 499.95,336.46 501,337.14 502.39,338.05 503.62,338.86 504.72,339.58 506.01,340.44 507.11,341.16 508.23,341.88 509.35,342.62 510.39,343.31 511.41,343.98 511.51,344.05"/></clipPath><path d="M319.92 227 V393.1 M333.94 227 V393.1 M347.96 227 V393.1 M361.98 227 V393.1 M376 227 V393.1 M390.02 227 V393.1 M404.04 227 V393.1 M418.06 227 V393.1 M432.08 227 V393.1 M446.1 227 V393.1 M460.12 227 V393.1 M474.14 227 V393.1 M488.16 227 V393.1 M502.18 227 V393.1 M516.2 227 V393.1 M305.5 384.36 H529.8 M305.5 375.11 H529.8 M305.5 365.87 H529.8 M305.5 356.62 H529.8 M305.5 347.38 H529.8 M305.5 338.13 H529.8 M305.5 328.88 H529.8 M305.5 319.64 H529.8 M305.5 310.4 H529.8 M305.5 301.15 H529.8 M305.5 291.91 H529.8 M305.5 282.66 H529.8 M305.5 273.42 H529.8 M305.5 264.17 H529.8 M305.5 254.93 H529.8 M305.5 245.68 H529.8 M305.5 236.44 H529.8" clip-path="url(#hs)" stroke="#000" stroke-opacity="0.05" stroke-width="0.9" fill="none"/></svg>
</div></body></html>
